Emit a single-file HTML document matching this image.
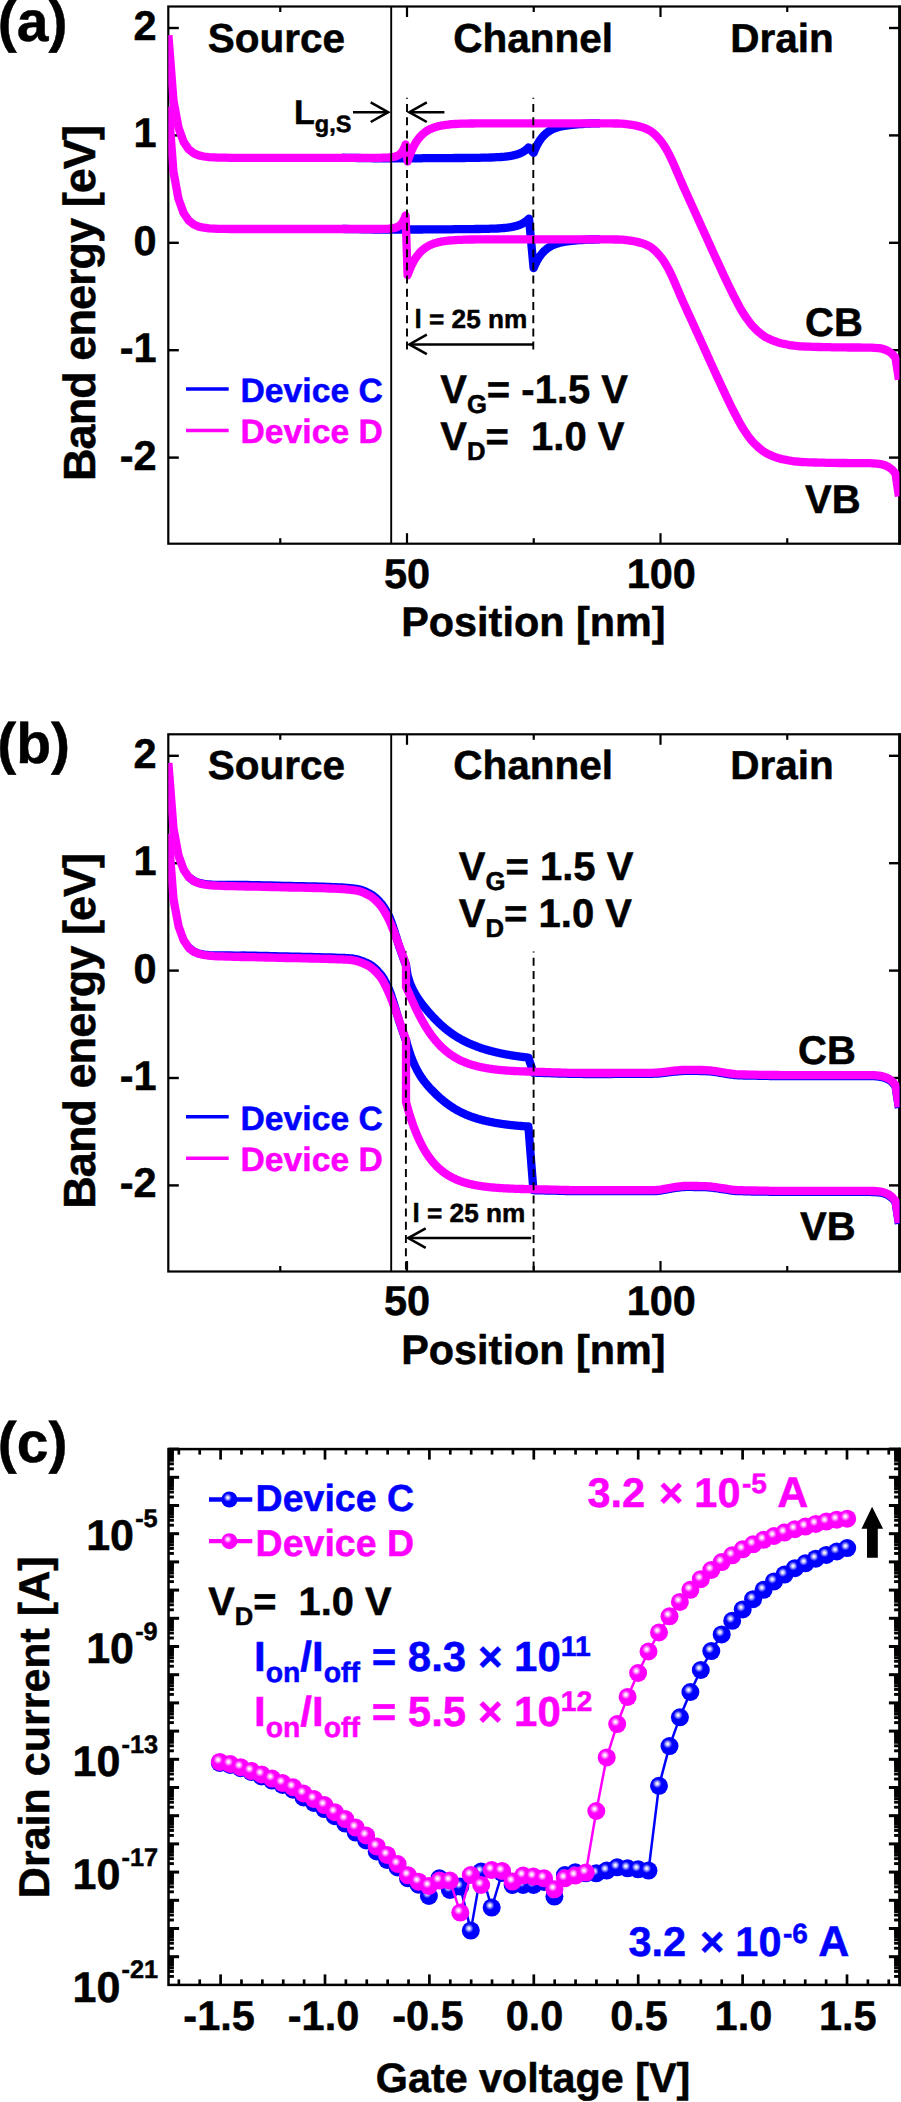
<!DOCTYPE html>
<html><head><meta charset="utf-8"><title>Band diagrams and transfer characteristics</title>
<style>html,body{margin:0;padding:0;background:#fff}svg{display:block}text{stroke:#000;stroke-width:.5px}text[fill="#0000ff"]{stroke:#0000ff}text[fill="#ff00ff"]{stroke:#ff00ff}</style></head>
<body>
<svg width="901" height="2102" viewBox="0 0 901 2102" font-family='"Liberation Sans", sans-serif' font-weight="bold" text-rendering="geometricPrecision">
<defs>
<clipPath id="ca"><rect x="168.3" y="6.5" width="731.2" height="537.2"/></clipPath>
<clipPath id="cb"><rect x="168.3" y="734.3" width="731.2" height="537.2"/></clipPath>
<radialGradient id="gm" cx="0.40" cy="0.38" r="0.5" fx="0.40" fy="0.38"><stop offset="0" stop-color="#fff"/><stop offset="0.12" stop-color="#ffe4ff"/><stop offset="0.5" stop-color="#ff00ff"/><stop offset="1" stop-color="#ff00ff"/></radialGradient>
<radialGradient id="gb" cx="0.40" cy="0.38" r="0.5" fx="0.40" fy="0.38"><stop offset="0" stop-color="#fff"/><stop offset="0.12" stop-color="#e4e4ff"/><stop offset="0.5" stop-color="#0000ff"/><stop offset="1" stop-color="#0000ff"/></radialGradient>
</defs>
<rect width="901" height="2102" fill="#fff"/>
<rect x="168.3" y="6.5" width="731.2" height="537.2" fill="none" stroke="#000" stroke-width="2.2"/>
<line x1="899.7" y1="5.4" x2="899.7" y2="544.8000000000001" stroke="#000" stroke-width="2.8" />
<line x1="168.3" y1="28.0" x2="178.8" y2="28.0" stroke="#000" stroke-width="2.4" />
<line x1="899.5" y1="28.0" x2="889.0" y2="28.0" stroke="#000" stroke-width="2.4" />
<text x="156.7" y="40.0" font-size="41.5" fill="#000" text-anchor="end" >2</text>
<line x1="168.3" y1="135.4" x2="178.8" y2="135.4" stroke="#000" stroke-width="2.4" />
<line x1="899.5" y1="135.4" x2="889.0" y2="135.4" stroke="#000" stroke-width="2.4" />
<text x="156.7" y="147.4" font-size="41.5" fill="#000" text-anchor="end" >1</text>
<line x1="168.3" y1="242.8" x2="178.8" y2="242.8" stroke="#000" stroke-width="2.4" />
<line x1="899.5" y1="242.8" x2="889.0" y2="242.8" stroke="#000" stroke-width="2.4" />
<text x="156.7" y="254.8" font-size="41.5" fill="#000" text-anchor="end" >0</text>
<line x1="168.3" y1="350.20000000000005" x2="178.8" y2="350.20000000000005" stroke="#000" stroke-width="2.4" />
<line x1="899.5" y1="350.20000000000005" x2="889.0" y2="350.20000000000005" stroke="#000" stroke-width="2.4" />
<text x="156.7" y="362.20000000000005" font-size="41.5" fill="#000" text-anchor="end" >-1</text>
<line x1="168.3" y1="457.6" x2="178.8" y2="457.6" stroke="#000" stroke-width="2.4" />
<line x1="899.5" y1="457.6" x2="889.0" y2="457.6" stroke="#000" stroke-width="2.4" />
<text x="156.7" y="469.6" font-size="41.5" fill="#000" text-anchor="end" >-2</text>
<line x1="280.25" y1="543.7" x2="280.25" y2="538.2" stroke="#000" stroke-width="2.2" />
<line x1="280.25" y1="6.5" x2="280.25" y2="12.0" stroke="#000" stroke-width="2.2" />
<line x1="407.0" y1="543.7" x2="407.0" y2="533.2" stroke="#000" stroke-width="2.2" />
<line x1="407.0" y1="6.5" x2="407.0" y2="17.0" stroke="#000" stroke-width="2.2" />
<line x1="533.75" y1="543.7" x2="533.75" y2="538.2" stroke="#000" stroke-width="2.2" />
<line x1="533.75" y1="6.5" x2="533.75" y2="12.0" stroke="#000" stroke-width="2.2" />
<line x1="660.5" y1="543.7" x2="660.5" y2="533.2" stroke="#000" stroke-width="2.2" />
<line x1="660.5" y1="6.5" x2="660.5" y2="17.0" stroke="#000" stroke-width="2.2" />
<line x1="787.25" y1="543.7" x2="787.25" y2="538.2" stroke="#000" stroke-width="2.2" />
<line x1="787.25" y1="6.5" x2="787.25" y2="12.0" stroke="#000" stroke-width="2.2" />
<text x="407.0" y="587.6" font-size="41.5" fill="#000" text-anchor="middle" >50</text>
<text x="661.3" y="587.6" font-size="41.5" fill="#000" text-anchor="middle" >100</text>
<text x="533.4" y="636.4" font-size="41.4" fill="#000" text-anchor="middle" >Position [nm]</text>
<text transform="translate(95.2,303.5) rotate(-90)" font-size="45" text-anchor="middle" letter-spacing="-0.95">Band energy [eV]</text>
<text x="-2.3" y="41.2" font-size="57" fill="#000" text-anchor="start" >(a)</text>
<text x="276.5" y="51.6" font-size="40.5" fill="#000" text-anchor="middle" >Source</text>
<text x="533.2" y="51.6" font-size="40.5" fill="#000" text-anchor="middle" >Channel</text>
<text x="782" y="51.6" font-size="40.5" fill="#000" text-anchor="middle" >Drain</text>
<g clip-path="url(#ca)">
<polyline points="342.0,157.7 346.0,157.8 350.0,157.9 354.0,157.9 358.0,158.0 362.0,158.1 366.0,158.2 370.0,158.2 374.0,158.3 378.0,158.4 380.0,158.4 380.4,158.4 380.8,158.4 381.2,158.4 381.6,158.4 382.0,158.4 382.4,158.4 382.8,158.4 383.2,158.4 383.6,158.4 384.0,158.4 384.4,158.4 384.8,158.4 385.2,158.4 385.6,158.4 386.0,158.4 386.4,158.4 386.8,158.4 387.2,158.4 387.6,158.4 388.0,158.4 388.4,158.4 388.8,158.4 389.2,158.4 389.6,158.4 390.0,158.4 390.4,158.4 390.8,158.4 391.2,158.4 391.6,158.4 392.0,158.4 392.4,158.4 392.8,158.4 393.2,158.4 393.6,158.4 394.0,158.4 394.4,158.4 394.8,158.4 395.2,158.4 395.6,158.4 396.0,158.4 396.4,158.4 396.8,158.4 397.2,158.4 397.6,158.4 398.0,158.4 398.4,158.4 398.8,158.3 399.2,158.3 399.6,158.3 400.0,158.3 400.4,158.3 400.8,158.3 401.2,158.3 401.6,158.3 402.0,158.3 402.4,158.3 402.8,158.3 403.2,158.3 403.6,158.3 404.0,158.3 404.4,158.3 404.8,158.3 405.2,158.3 405.6,158.3 405.6,158.3 406.0,158.3 406.4,158.3 406.8,158.3 407.2,158.3 407.6,158.3 407.6,158.3 408.0,158.3 408.4,158.3 408.8,158.3 409.2,158.3 409.6,158.3 410.0,158.3 410.4,158.3 410.8,158.3 411.2,158.3 411.6,158.3 412.0,158.3 412.4,158.3 412.8,158.3 413.2,158.3 413.6,158.3 414.0,158.3 414.4,158.3 414.8,158.3 415.2,158.3 415.6,158.3 416.0,158.3 416.4,158.3 416.8,158.3 417.2,158.3 417.6,158.3 418.0,158.3 418.4,158.3 418.8,158.3 419.2,158.3 419.6,158.3 420.0,158.3 420.4,158.3 420.8,158.3 421.2,158.3 421.6,158.3 422.0,158.3 422.4,158.2 422.8,158.2 423.2,158.2 423.6,158.2 424.0,158.2 424.4,158.2 424.8,158.2 425.2,158.2 425.6,158.2 426.0,158.2 426.4,158.2 426.8,158.2 427.2,158.2 427.6,158.2 428.0,158.2 428.4,158.2 428.8,158.2 429.2,158.2 429.6,158.2 430.0,158.2 430.4,158.2 430.8,158.2 431.2,158.2 431.6,158.2 432.0,158.2 432.4,158.2 432.8,158.2 433.2,158.2 433.6,158.2 434.0,158.2 434.4,158.2 434.8,158.2 435.2,158.2 435.6,158.2 436.0,158.2 436.4,158.2 436.8,158.2 437.2,158.2 437.6,158.2 438.0,158.2 438.4,158.2 438.8,158.2 439.2,158.2 439.6,158.2 440.0,158.1 443.0,158.1 446.0,158.1 449.0,158.1 452.0,158.1 455.0,158.0 458.0,158.0 461.0,158.0 464.0,158.0 467.0,157.9 470.0,157.9 473.0,157.8 476.0,157.8 479.0,157.8 482.0,157.7 485.0,157.6 488.0,157.6 491.0,157.5 494.0,157.4 497.0,157.2 500.0,157.1 500.4,157.0 500.8,157.0 501.2,157.0 501.6,157.0 502.0,156.9 502.4,156.9 502.8,156.9 503.2,156.8 503.6,156.8 504.0,156.8 504.4,156.7 504.8,156.7 505.2,156.6 505.6,156.6 506.0,156.6 506.4,156.5 506.8,156.5 507.2,156.4 507.6,156.4 508.0,156.3 508.4,156.3 508.8,156.2 509.2,156.1 509.6,156.1 510.0,156.0 510.4,156.0 510.8,155.9 511.2,155.8 511.6,155.7 512.0,155.7 512.4,155.6 512.8,155.5 513.2,155.4 513.6,155.3 514.0,155.2 514.4,155.1 514.8,155.0 515.2,154.9 515.6,154.8 516.0,154.7 516.4,154.6 516.8,154.5 517.2,154.3 517.6,154.2 518.0,154.1 518.4,153.9 518.8,153.8 519.2,153.6 519.6,153.5 520.0,153.3 520.4,153.1 520.8,152.9 521.2,152.8 521.6,152.6 522.0,152.4 522.4,152.1 522.8,151.9 523.2,151.7 523.6,151.4 524.0,151.2 524.4,150.9 524.8,150.6 525.2,150.4 525.6,150.1 526.0,149.8 526.4,149.4 526.8,149.1 527.2,148.7 527.6,148.4 528.0,148.0 528.4,147.6 528.6,147.4 528.8,147.5 529.0,147.7 529.2,148.0 529.6,148.4 530.0,148.9 530.4,149.3 530.8,149.8 531.2,150.2 531.6,150.7 532.0,151.1 532.4,151.6 532.8,152.0 533.2,152.5 533.6,152.9 533.6,152.9 534.0,151.9 534.4,150.9 534.8,149.9 535.2,149.0 535.6,148.1 536.0,147.3 536.4,146.4 536.8,145.6 537.2,144.9 537.6,144.1 538.0,143.4 538.4,142.7 538.8,142.1 539.2,141.4 539.6,140.8 540.0,140.2 540.4,139.6 540.8,139.1 541.2,138.5 541.6,138.0 542.0,137.5 542.4,137.0 542.8,136.6 543.2,136.1 543.6,135.7 544.0,135.3 544.4,134.9 544.8,134.5 545.2,134.1 545.6,133.8 546.0,133.4 546.4,133.1 546.8,132.8 547.2,132.5 547.6,132.2 548.0,131.9 548.4,131.6 548.8,131.3 549.2,131.1 549.6,130.8 550.0,130.6 550.4,130.4 550.8,130.1 551.2,129.9 551.6,129.7 552.0,129.5 552.4,129.3 552.8,129.1 553.2,128.9 553.6,128.8 554.0,128.6 554.4,128.4 554.8,128.3 555.2,128.1 555.6,128.0 556.0,127.9 556.4,127.7 556.8,127.6 557.2,127.5 557.6,127.3 558.0,127.2 558.4,127.1 558.8,127.0 559.2,126.9 559.6,126.8 560.0,126.7 560.4,126.6 560.8,126.5 561.2,126.4 561.6,126.4 562.0,126.3 562.4,126.2 562.8,126.1 563.2,126.1 563.6,126.0 564.0,125.9 564.4,125.9 564.8,125.8 565.2,125.7 565.6,125.7 566.0,125.6 566.4,125.6 566.8,125.5 567.2,125.5 567.6,125.4 568.0,125.4 568.4,125.3 568.8,125.3 569.2,125.2 569.6,125.2 570.0,125.2 570.4,125.1 570.8,125.0 571.2,125.0 571.6,124.9 572.0,124.9 572.4,124.9 572.8,124.8 573.2,124.8 573.6,124.7 574.0,124.7 574.4,124.6 574.8,124.6 575.2,124.6 575.6,124.5 576.0,124.5 576.4,124.4 576.8,124.4 577.2,124.4 577.6,124.3 578.0,124.3 578.4,124.3 578.8,124.2 579.2,124.2 579.6,124.2 580.0,124.1 582.0,124.0 584.0,123.8 586.0,123.7 588.0,123.6 590.0,123.5 592.0,123.4 594.0,123.4 596.0,123.4 598.0,123.4 600.0,123.4" fill="none" stroke="#0000ff" stroke-width="8.3" stroke-linejoin="round" />
<polyline points="342.0,228.9 346.0,229.0 350.0,229.1 354.0,229.1 358.0,229.2 362.0,229.3 366.0,229.4 370.0,229.4 374.0,229.5 378.0,229.6 380.0,229.6 380.4,229.6 380.8,229.6 381.2,229.6 381.6,229.6 382.0,229.6 382.4,229.6 382.8,229.6 383.2,229.6 383.6,229.6 384.0,229.6 384.4,229.6 384.8,229.6 385.2,229.6 385.6,229.6 386.0,229.6 386.4,229.6 386.8,229.6 387.2,229.6 387.6,229.6 388.0,229.6 388.4,229.6 388.8,229.6 389.2,229.6 389.6,229.6 390.0,229.6 390.4,229.6 390.8,229.6 391.2,229.6 391.6,229.6 392.0,229.6 392.4,229.6 392.8,229.6 393.2,229.6 393.6,229.6 394.0,229.6 394.4,229.6 394.8,229.6 395.2,229.6 395.6,229.6 396.0,229.6 396.4,229.6 396.8,229.6 397.2,229.6 397.6,229.6 398.0,229.6 398.4,229.6 398.8,229.6 399.2,229.5 399.6,229.5 400.0,229.5 400.4,229.5 400.8,229.5 401.2,229.5 401.6,229.5 402.0,229.5 402.4,229.5 402.8,229.5 403.2,229.5 403.6,229.5 404.0,229.5 404.4,229.5 404.8,229.5 405.2,229.5 405.6,229.5 405.6,229.5 406.0,229.5 406.4,229.5 406.8,229.5 407.2,229.5 407.6,229.5 407.6,229.5 408.0,229.5 408.4,229.5 408.8,229.5 409.2,229.5 409.6,229.5 410.0,229.5 410.4,229.5 410.8,229.5 411.2,229.5 411.6,229.5 412.0,229.5 412.4,229.5 412.8,229.5 413.2,229.5 413.6,229.5 414.0,229.5 414.4,229.5 414.8,229.5 415.2,229.5 415.6,229.5 416.0,229.5 416.4,229.5 416.8,229.5 417.2,229.5 417.6,229.5 418.0,229.5 418.4,229.5 418.8,229.5 419.2,229.5 419.6,229.5 420.0,229.5 420.4,229.5 420.8,229.5 421.2,229.5 421.6,229.5 422.0,229.5 422.4,229.5 422.8,229.4 423.2,229.4 423.6,229.4 424.0,229.4 424.4,229.4 424.8,229.4 425.2,229.4 425.6,229.4 426.0,229.4 426.4,229.4 426.8,229.4 427.2,229.4 427.6,229.4 428.0,229.4 428.4,229.4 428.8,229.4 429.2,229.4 429.6,229.4 430.0,229.4 430.4,229.4 430.8,229.4 431.2,229.4 431.6,229.4 432.0,229.4 432.4,229.4 432.8,229.4 433.2,229.4 433.6,229.4 434.0,229.4 434.4,229.4 434.8,229.4 435.2,229.4 435.6,229.4 436.0,229.4 436.4,229.4 436.8,229.4 437.2,229.4 437.6,229.4 438.0,229.4 438.4,229.4 438.8,229.4 439.2,229.4 439.6,229.4 440.0,229.4 443.0,229.3 446.0,229.3 449.0,229.3 452.0,229.3 455.0,229.2 458.0,229.2 461.0,229.2 464.0,229.2 467.0,229.1 470.0,229.1 473.0,229.1 476.0,229.0 479.0,229.0 482.0,228.9 485.0,228.9 488.0,228.8 491.0,228.7 494.0,228.6 497.0,228.5 500.0,228.3 500.4,228.3 500.8,228.2 501.2,228.2 501.6,228.2 502.0,228.2 502.4,228.1 502.8,228.1 503.2,228.1 503.6,228.0 504.0,228.0 504.4,228.0 504.8,227.9 505.2,227.9 505.6,227.8 506.0,227.8 506.4,227.8 506.8,227.7 507.2,227.7 507.6,227.6 508.0,227.6 508.4,227.5 508.8,227.5 509.2,227.4 509.6,227.3 510.0,227.3 510.4,227.2 510.8,227.2 511.2,227.1 511.6,227.0 512.0,226.9 512.4,226.9 512.8,226.8 513.2,226.7 513.6,226.6 514.0,226.5 514.4,226.4 514.8,226.3 515.2,226.2 515.6,226.1 516.0,226.0 516.4,225.9 516.8,225.8 517.2,225.7 517.6,225.5 518.0,225.4 518.4,225.3 518.8,225.1 519.2,225.0 519.6,224.8 520.0,224.7 520.4,224.5 520.8,224.3 521.2,224.1 521.6,224.0 522.0,223.8 522.4,223.6 522.8,223.3 523.2,223.1 523.6,222.9 524.0,222.6 524.4,222.4 524.8,222.1 525.2,221.8 525.6,221.6 526.0,221.3 526.4,221.0 526.8,220.6 527.2,220.3 527.6,219.9 528.0,219.6 528.4,219.2 528.6,219.0 528.8,218.8 529.0,218.6 529.2,220.7 529.6,225.0 530.0,229.3 530.4,233.6 530.8,237.9 531.2,242.2 531.6,246.5 532.0,250.8 532.4,255.2 532.8,259.5 533.2,263.8 533.6,268.1 533.6,268.1 534.0,267.1 534.4,266.2 534.8,265.3 535.2,264.4 535.6,263.6 536.0,262.8 536.4,262.0 536.8,261.3 537.2,260.5 537.6,259.8 538.0,259.1 538.4,258.5 538.8,257.8 539.2,257.2 539.6,256.6 540.0,256.1 540.4,255.5 540.8,255.0 541.2,254.5 541.6,254.0 542.0,253.5 542.4,253.0 542.8,252.6 543.2,252.1 543.6,251.7 544.0,251.3 544.4,250.9 544.8,250.5 545.2,250.2 545.6,249.8 546.0,249.5 546.4,249.2 546.8,248.8 547.2,248.5 547.6,248.2 548.0,248.0 548.4,247.7 548.8,247.4 549.2,247.2 549.6,246.9 550.0,246.7 550.4,246.4 550.8,246.2 551.2,246.0 551.6,245.8 552.0,245.6 552.4,245.4 552.8,245.2 553.2,245.0 553.6,244.9 554.0,244.7 554.4,244.5 554.8,244.4 555.2,244.2 555.6,244.1 556.0,243.9 556.4,243.8 556.8,243.7 557.2,243.5 557.6,243.4 558.0,243.3 558.4,243.2 558.8,243.1 559.2,242.9 559.6,242.8 560.0,242.7 560.4,242.6 560.8,242.5 561.2,242.5 561.6,242.4 562.0,242.3 562.4,242.2 562.8,242.1 563.2,242.0 563.6,242.0 564.0,241.9 564.4,241.8 564.8,241.8 565.2,241.7 565.6,241.6 566.0,241.6 566.4,241.5 566.8,241.5 567.2,241.4 567.6,241.4 568.0,241.3 568.4,241.3 568.8,241.2 569.2,241.2 569.6,241.1 570.0,241.1 570.4,241.0 570.8,241.0 571.2,240.9 571.6,240.9 572.0,240.8 572.4,240.8 572.8,240.8 573.2,240.7 573.6,240.7 574.0,240.6 574.4,240.6 574.8,240.5 575.2,240.5 575.6,240.5 576.0,240.4 576.4,240.4 576.8,240.4 577.2,240.3 577.6,240.3 578.0,240.3 578.4,240.2 578.8,240.2 579.2,240.2 579.6,240.1 580.0,240.1 582.0,240.0 584.0,239.8 586.0,239.7 588.0,239.6 590.0,239.5 592.0,239.5 594.0,239.5 596.0,239.4 598.0,239.4 600.0,239.4" fill="none" stroke="#0000ff" stroke-width="8.3" stroke-linejoin="round" />
<polyline points="168.4,35.2 173.5,100.8 178.5,127.7 183.6,141.8 188.7,149.3 193.8,153.3 198.8,155.4 203.9,156.5 209.0,157.1 214.0,157.4 218.0,157.6 222.0,157.7 226.0,157.7 230.0,157.8 234.0,157.8 238.0,157.8 242.0,157.8 246.0,157.8 250.0,157.8 254.0,157.8 258.0,157.8 262.0,157.8 266.0,157.8 270.0,157.8 274.0,157.8 278.0,157.8 282.0,157.8 286.0,157.8 290.0,157.8 294.0,157.8 298.0,157.8 302.0,157.8 306.0,157.8 310.0,157.8 314.0,157.8 318.0,157.8 322.0,157.8 326.0,157.8 330.0,157.8 334.0,157.8 338.0,157.8 342.0,157.8 346.0,157.8 350.0,157.8 354.0,157.8 358.0,157.8 362.0,157.8 366.0,157.8 370.0,157.8 374.0,157.8 378.0,157.8 380.0,157.8 380.4,157.8 380.8,157.8 381.2,157.7 381.6,157.7 382.0,157.7 382.4,157.7 382.8,157.7 383.2,157.7 383.6,157.7 384.0,157.7 384.4,157.7 384.8,157.7 385.2,157.7 385.6,157.7 386.0,157.6 386.4,157.6 386.8,157.6 387.2,157.6 387.6,157.6 388.0,157.6 388.4,157.5 388.8,157.5 389.2,157.5 389.6,157.4 390.0,157.4 390.4,157.4 390.8,157.3 391.2,157.3 391.6,157.2 392.0,157.2 392.4,157.1 392.8,157.1 393.2,157.0 393.6,156.9 394.0,156.8 394.4,156.8 394.8,156.7 395.2,156.5 395.6,156.4 396.0,156.3 396.4,156.2 396.8,156.0 397.2,155.8 397.6,155.6 398.0,155.4 398.4,155.2 398.8,155.0 399.2,154.7 399.6,154.4 400.0,154.1 400.4,153.7 400.8,153.3 401.2,152.9 401.6,152.4 402.0,151.9 402.4,151.4 402.8,150.8 403.2,150.1 403.6,149.4 404.0,148.6 404.4,147.7 404.8,146.7 405.2,145.7 405.6,144.5 405.6,144.5 406.0,147.9 406.4,151.3 406.8,154.7 407.2,158.1 407.6,161.5 407.6,161.5 408.0,160.2 408.4,159.0 408.8,157.9 409.2,156.7 409.6,155.6 410.0,154.6 410.4,153.6 410.8,152.6 411.2,151.6 411.6,150.7 412.0,149.8 412.4,148.9 412.8,148.1 413.2,147.3 413.6,146.5 414.0,145.7 414.4,145.0 414.8,144.3 415.2,143.6 415.6,142.9 416.0,142.3 416.4,141.6 416.8,141.0 417.2,140.5 417.6,139.9 418.0,139.4 418.4,138.8 418.8,138.3 419.2,137.8 419.6,137.4 420.0,136.9 420.4,136.4 420.8,136.0 421.2,135.6 421.6,135.2 422.0,134.8 422.4,134.4 422.8,134.1 423.2,133.7 423.6,133.4 424.0,133.0 424.4,132.7 424.8,132.4 425.2,132.1 425.6,131.8 426.0,131.5 426.4,131.3 426.8,131.0 427.2,130.8 427.6,130.5 428.0,130.3 428.4,130.0 428.8,129.8 429.2,129.6 429.6,129.4 430.0,129.2 430.4,129.0 430.8,128.8 431.2,128.6 431.6,128.5 432.0,128.3 432.4,128.1 432.8,128.0 433.2,127.8 433.6,127.7 434.0,127.5 434.4,127.4 434.8,127.3 435.2,127.1 435.6,127.0 436.0,126.9 436.4,126.8 436.8,126.7 437.2,126.5 437.6,126.4 438.0,126.3 438.4,126.2 438.8,126.1 439.2,126.0 439.6,126.0 440.0,125.9 443.0,125.3 446.0,124.9 449.0,124.5 452.0,124.2 455.0,124.0 458.0,123.9 461.0,123.7 464.0,123.6 467.0,123.6 470.0,123.5 473.0,123.5 476.0,123.4 479.0,123.4 482.0,123.4 485.0,123.4 488.0,123.3 491.0,123.3 494.0,123.3 497.0,123.3 500.0,123.3 500.4,123.3 500.8,123.3 501.2,123.3 501.6,123.3 502.0,123.3 502.4,123.3 502.8,123.3 503.2,123.3 503.6,123.3 504.0,123.3 504.4,123.3 504.8,123.3 505.2,123.3 505.6,123.3 506.0,123.3 506.4,123.3 506.8,123.3 507.2,123.3 507.6,123.3 508.0,123.3 508.4,123.3 508.8,123.3 509.2,123.3 509.6,123.3 510.0,123.3 510.4,123.3 510.8,123.3 511.2,123.3 511.6,123.3 512.0,123.3 512.4,123.3 512.8,123.3 513.2,123.3 513.6,123.3 514.0,123.3 514.4,123.3 514.8,123.3 515.2,123.3 515.6,123.3 516.0,123.3 516.4,123.3 516.8,123.3 517.2,123.3 517.6,123.3 518.0,123.3 518.4,123.3 518.8,123.3 519.2,123.3 519.6,123.3 520.0,123.3 520.4,123.3 520.8,123.3 521.2,123.3 521.6,123.3 522.0,123.3 522.4,123.3 522.8,123.3 523.2,123.3 523.6,123.3 524.0,123.3 524.4,123.3 524.8,123.3 525.2,123.3 525.6,123.3 526.0,123.3 526.4,123.3 526.8,123.3 527.2,123.3 527.6,123.3 528.0,123.3 528.4,123.3 528.6,123.3 528.8,123.3 529.0,123.3 529.2,123.3 529.6,123.3 530.0,123.3 530.4,123.3 530.8,123.3 531.2,123.3 531.6,123.3 532.0,123.3 532.4,123.3 532.8,123.3 533.2,123.3 533.6,123.3 533.6,123.3 534.0,123.3 534.4,123.3 534.8,123.3 535.2,123.3 535.6,123.3 536.0,123.3 536.4,123.3 536.8,123.3 537.2,123.3 537.6,123.3 538.0,123.3 538.4,123.3 538.8,123.3 539.2,123.3 539.6,123.3 540.0,123.3 540.4,123.3 540.8,123.3 541.2,123.3 541.6,123.3 542.0,123.3 542.4,123.3 542.8,123.3 543.2,123.3 543.6,123.3 544.0,123.3 544.4,123.3 544.8,123.3 545.2,123.3 545.6,123.3 546.0,123.3 546.4,123.3 546.8,123.3 547.2,123.3 547.6,123.3 548.0,123.3 548.4,123.3 548.8,123.3 549.2,123.3 549.6,123.3 550.0,123.3 550.4,123.3 550.8,123.3 551.2,123.3 551.6,123.3 552.0,123.3 552.4,123.3 552.8,123.3 553.2,123.3 553.6,123.3 554.0,123.3 554.4,123.3 554.8,123.3 555.2,123.3 555.6,123.3 556.0,123.3 556.4,123.3 556.8,123.3 557.2,123.3 557.6,123.3 558.0,123.3 558.4,123.3 558.8,123.3 559.2,123.3 559.6,123.3 560.0,123.3 560.4,123.3 560.8,123.3 561.2,123.3 561.6,123.3 562.0,123.3 562.4,123.3 562.8,123.3 563.2,123.3 563.6,123.3 564.0,123.3 564.4,123.3 564.8,123.3 565.2,123.3 565.6,123.3 566.0,123.3 566.4,123.3 566.8,123.3 567.2,123.3 567.6,123.3 568.0,123.3 568.4,123.3 568.8,123.3 569.2,123.3 569.6,123.3 570.0,123.3 570.4,123.3 570.8,123.3 571.2,123.3 571.6,123.3 572.0,123.3 572.4,123.3 572.8,123.3 573.2,123.3 573.6,123.3 574.0,123.3 574.4,123.3 574.8,123.3 575.2,123.3 575.6,123.3 576.0,123.3 576.4,123.3 576.8,123.3 577.2,123.3 577.6,123.3 578.0,123.3 578.4,123.3 578.8,123.3 579.2,123.3 579.6,123.3 580.0,123.3 582.0,123.3 584.0,123.3 586.0,123.3 588.0,123.3 590.0,123.3 592.0,123.3 594.0,123.3 596.0,123.3 598.0,123.3 600.0,123.3 602.0,123.3 604.0,123.3 606.0,123.3 608.0,123.4 610.0,123.4 612.0,123.4 614.0,123.5 616.0,123.5 618.0,123.5 620.0,123.6 622.0,123.7 624.0,123.8 626.0,124.0 628.0,124.3 630.0,124.6 632.0,124.9 634.0,125.2 636.0,125.6 638.0,126.1 640.0,126.6 642.0,127.2 644.0,127.9 646.0,128.7 648.0,129.6 650.0,130.7 652.0,132.1 654.0,133.7 656.0,135.6 658.0,137.7 660.0,140.0 662.0,142.5 664.0,145.5 666.0,148.7 668.0,152.3 670.0,156.2 672.0,160.4 674.0,164.9 676.0,169.5 678.0,174.2 680.0,178.9 682.0,183.5 684.0,188.0 686.0,192.4 688.0,196.8 690.0,201.2 692.0,205.6 694.0,210.0 696.0,214.4 698.0,218.8 700.0,223.2 702.0,227.6 704.0,232.0 706.0,236.4 708.0,240.9 710.0,245.3 712.0,249.7 714.0,254.1 716.0,258.5 718.0,262.8 720.0,267.1 722.0,271.4 724.0,275.7 726.0,280.0 728.0,284.2 730.0,288.3 732.0,292.4 734.0,296.3 736.0,300.2 738.0,304.0 740.0,307.7 742.0,311.2 744.0,314.4 746.0,317.4 748.0,320.2 750.0,322.9 752.0,325.4 754.0,327.5 756.0,329.5 758.0,331.4 760.0,333.1 762.0,334.7 764.0,336.1 766.0,337.4 768.0,338.4 770.0,339.3 772.0,340.2 774.0,341.0 776.0,341.7 778.0,342.4 780.0,343.0 782.0,343.5 784.0,343.9 786.0,344.3 788.0,344.7 790.0,345.1 792.0,345.4 794.0,345.7 796.0,345.9 798.0,346.1 800.0,346.3 802.0,346.4 804.0,346.5 806.0,346.6 808.0,346.7 810.0,346.7 812.0,346.8 814.0,346.9 816.0,346.9 818.0,347.0 820.0,347.0 822.0,347.1 824.0,347.1 826.0,347.2 828.0,347.2 830.0,347.2 832.0,347.3 834.0,347.3 836.0,347.3 838.0,347.4 840.0,347.4 842.0,347.4 844.0,347.4 846.0,347.4 848.0,347.5 850.0,347.5 852.0,347.5 854.0,347.5 856.0,347.5 858.0,347.5 860.0,347.5 862.0,347.6 864.0,347.6 866.0,347.6 868.0,347.6 870.0,347.6 872.0,347.7 874.0,347.8 878.8,348.1 882.1,348.7 885.5,349.8 888.9,351.5 892.2,354.0 895.5,357.8 898.9,379.7" fill="none" stroke="#ff00ff" stroke-width="8.3" stroke-linejoin="round" />
<polyline points="168.4,106.4 173.5,172.0 178.5,198.9 183.6,213.0 188.7,220.5 193.8,224.5 198.8,226.6 203.9,227.7 209.0,228.3 214.0,228.6 218.0,228.8 222.0,228.9 226.0,228.9 230.0,229.0 234.0,229.0 238.0,229.0 242.0,229.0 246.0,229.0 250.0,229.0 254.0,229.0 258.0,229.0 262.0,229.0 266.0,229.0 270.0,229.0 274.0,229.0 278.0,229.0 282.0,229.0 286.0,229.0 290.0,229.0 294.0,229.0 298.0,229.0 302.0,229.0 306.0,229.0 310.0,229.0 314.0,229.0 318.0,229.0 322.0,229.0 326.0,229.0 330.0,229.0 334.0,229.0 338.0,229.0 342.0,229.0 346.0,229.0 350.0,229.0 354.0,229.0 358.0,229.0 362.0,229.0 366.0,229.0 370.0,229.0 374.0,229.0 378.0,229.0 380.0,229.0 380.4,229.0 380.8,229.0 381.2,228.9 381.6,228.9 382.0,228.9 382.4,228.9 382.8,228.9 383.2,228.9 383.6,228.9 384.0,228.9 384.4,228.9 384.8,228.9 385.2,228.9 385.6,228.9 386.0,228.8 386.4,228.8 386.8,228.8 387.2,228.8 387.6,228.8 388.0,228.8 388.4,228.7 388.8,228.7 389.2,228.7 389.6,228.6 390.0,228.6 390.4,228.6 390.8,228.5 391.2,228.5 391.6,228.4 392.0,228.4 392.4,228.3 392.8,228.3 393.2,228.2 393.6,228.1 394.0,228.0 394.4,227.9 394.8,227.8 395.2,227.7 395.6,227.6 396.0,227.5 396.4,227.3 396.8,227.2 397.2,227.0 397.6,226.8 398.0,226.6 398.4,226.4 398.8,226.1 399.2,225.8 399.6,225.5 400.0,225.2 400.4,224.8 400.8,224.4 401.2,224.0 401.6,223.5 402.0,223.0 402.4,222.4 402.8,221.8 403.2,221.1 403.6,220.4 404.0,219.5 404.4,218.6 404.8,217.7 405.2,216.6 405.6,215.4 405.6,215.4 406.0,227.4 406.4,239.4 406.8,251.3 407.2,263.3 407.6,275.3 407.6,275.3 408.0,274.1 408.4,273.0 408.8,272.0 409.2,270.9 409.6,269.9 410.0,268.9 410.4,268.0 410.8,267.1 411.2,266.2 411.6,265.3 412.0,264.5 412.4,263.7 412.8,262.9 413.2,262.1 413.6,261.4 414.0,260.7 414.4,260.0 414.8,259.3 415.2,258.7 415.6,258.1 416.0,257.5 416.4,256.9 416.8,256.3 417.2,255.8 417.6,255.3 418.0,254.8 418.4,254.3 418.8,253.8 419.2,253.3 419.6,252.9 420.0,252.4 420.4,252.0 420.8,251.6 421.2,251.2 421.6,250.8 422.0,250.5 422.4,250.1 422.8,249.8 423.2,249.4 423.6,249.1 424.0,248.8 424.4,248.5 424.8,248.2 425.2,247.9 425.6,247.6 426.0,247.4 426.4,247.1 426.8,246.9 427.2,246.6 427.6,246.4 428.0,246.2 428.4,245.9 428.8,245.7 429.2,245.5 429.6,245.3 430.0,245.1 430.4,244.9 430.8,244.8 431.2,244.6 431.6,244.4 432.0,244.3 432.4,244.1 432.8,243.9 433.2,243.8 433.6,243.6 434.0,243.5 434.4,243.4 434.8,243.2 435.2,243.1 435.6,243.0 436.0,242.9 436.4,242.8 436.8,242.7 437.2,242.5 437.6,242.4 438.0,242.3 438.4,242.2 438.8,242.1 439.2,242.1 439.6,242.0 440.0,241.9 443.0,241.3 446.0,240.9 449.0,240.5 452.0,240.3 455.0,240.1 458.0,239.9 461.0,239.8 464.0,239.7 467.0,239.6 470.0,239.5 473.0,239.5 476.0,239.4 479.0,239.4 482.0,239.4 485.0,239.4 488.0,239.4 491.0,239.3 494.0,239.3 497.0,239.3 500.0,239.3 500.4,239.3 500.8,239.3 501.2,239.3 501.6,239.3 502.0,239.3 502.4,239.3 502.8,239.3 503.2,239.3 503.6,239.3 504.0,239.3 504.4,239.3 504.8,239.3 505.2,239.3 505.6,239.3 506.0,239.3 506.4,239.3 506.8,239.3 507.2,239.3 507.6,239.3 508.0,239.3 508.4,239.3 508.8,239.3 509.2,239.3 509.6,239.3 510.0,239.3 510.4,239.3 510.8,239.3 511.2,239.3 511.6,239.3 512.0,239.3 512.4,239.3 512.8,239.3 513.2,239.3 513.6,239.3 514.0,239.3 514.4,239.3 514.8,239.3 515.2,239.3 515.6,239.3 516.0,239.3 516.4,239.3 516.8,239.3 517.2,239.3 517.6,239.3 518.0,239.3 518.4,239.3 518.8,239.3 519.2,239.3 519.6,239.3 520.0,239.3 520.4,239.3 520.8,239.3 521.2,239.3 521.6,239.3 522.0,239.3 522.4,239.3 522.8,239.3 523.2,239.3 523.6,239.3 524.0,239.3 524.4,239.3 524.8,239.3 525.2,239.3 525.6,239.3 526.0,239.3 526.4,239.3 526.8,239.3 527.2,239.3 527.6,239.3 528.0,239.3 528.4,239.3 528.6,239.3 528.8,239.3 529.0,239.3 529.2,239.3 529.6,239.3 530.0,239.3 530.4,239.3 530.8,239.3 531.2,239.3 531.6,239.3 532.0,239.3 532.4,239.3 532.8,239.3 533.2,239.3 533.6,239.3 533.6,239.3 534.0,239.3 534.4,239.3 534.8,239.3 535.2,239.3 535.6,239.3 536.0,239.3 536.4,239.3 536.8,239.3 537.2,239.3 537.6,239.3 538.0,239.3 538.4,239.3 538.8,239.3 539.2,239.3 539.6,239.3 540.0,239.3 540.4,239.3 540.8,239.3 541.2,239.3 541.6,239.3 542.0,239.3 542.4,239.3 542.8,239.3 543.2,239.3 543.6,239.3 544.0,239.3 544.4,239.3 544.8,239.3 545.2,239.3 545.6,239.3 546.0,239.3 546.4,239.3 546.8,239.3 547.2,239.3 547.6,239.3 548.0,239.3 548.4,239.3 548.8,239.3 549.2,239.3 549.6,239.3 550.0,239.3 550.4,239.3 550.8,239.3 551.2,239.3 551.6,239.3 552.0,239.3 552.4,239.3 552.8,239.3 553.2,239.3 553.6,239.3 554.0,239.3 554.4,239.3 554.8,239.3 555.2,239.3 555.6,239.3 556.0,239.3 556.4,239.3 556.8,239.3 557.2,239.3 557.6,239.3 558.0,239.3 558.4,239.3 558.8,239.3 559.2,239.3 559.6,239.3 560.0,239.3 560.4,239.3 560.8,239.3 561.2,239.3 561.6,239.3 562.0,239.3 562.4,239.3 562.8,239.3 563.2,239.3 563.6,239.3 564.0,239.3 564.4,239.3 564.8,239.3 565.2,239.3 565.6,239.3 566.0,239.3 566.4,239.3 566.8,239.3 567.2,239.3 567.6,239.3 568.0,239.3 568.4,239.3 568.8,239.3 569.2,239.3 569.6,239.3 570.0,239.3 570.4,239.3 570.8,239.3 571.2,239.3 571.6,239.3 572.0,239.3 572.4,239.3 572.8,239.3 573.2,239.3 573.6,239.3 574.0,239.3 574.4,239.3 574.8,239.3 575.2,239.3 575.6,239.3 576.0,239.3 576.4,239.3 576.8,239.3 577.2,239.3 577.6,239.3 578.0,239.3 578.4,239.3 578.8,239.3 579.2,239.3 579.6,239.3 580.0,239.3 582.0,239.3 584.0,239.3 586.0,239.3 588.0,239.3 590.0,239.3 592.0,239.3 594.0,239.3 596.0,239.3 598.0,239.3 600.0,239.3 602.0,239.3 604.0,239.3 606.0,239.3 608.0,239.4 610.0,239.4 612.0,239.4 614.0,239.5 616.0,239.5 618.0,239.5 620.0,239.6 622.0,239.7 624.0,239.8 626.0,240.0 628.0,240.3 630.0,240.6 632.0,240.9 634.0,241.2 636.0,241.6 638.0,242.1 640.0,242.6 642.0,243.2 644.0,243.9 646.0,244.7 648.0,245.6 650.0,246.7 652.0,248.1 654.0,249.7 656.0,251.6 658.0,253.7 660.0,256.0 662.0,258.5 664.0,261.4 666.0,264.7 668.0,268.2 670.0,272.1 672.0,276.3 674.0,280.8 676.0,285.4 678.0,290.1 680.0,294.8 682.0,299.4 684.0,303.9 686.0,308.3 688.0,312.7 690.0,317.0 692.0,321.4 694.0,325.8 696.0,330.2 698.0,334.6 700.0,339.0 702.0,343.4 704.0,347.8 706.0,352.2 708.0,356.7 710.0,361.1 712.0,365.5 714.0,369.9 716.0,374.2 718.0,378.5 720.0,382.8 722.0,387.2 724.0,391.4 726.0,395.7 728.0,399.9 730.0,404.0 732.0,408.1 734.0,412.0 736.0,415.8 738.0,419.7 740.0,423.4 742.0,426.8 744.0,430.0 746.0,433.0 748.0,435.9 750.0,438.6 752.0,441.0 754.0,443.1 756.0,445.1 758.0,447.0 760.0,448.7 762.0,450.3 764.0,451.8 766.0,453.0 768.0,454.0 770.0,454.9 772.0,455.8 774.0,456.6 776.0,457.3 778.0,458.0 780.0,458.6 782.0,459.1 784.0,459.5 786.0,459.9 788.0,460.3 790.0,460.7 792.0,461.0 794.0,461.3 796.0,461.5 798.0,461.7 800.0,461.9 802.0,462.0 804.0,462.1 806.0,462.2 808.0,462.3 810.0,462.3 812.0,462.4 814.0,462.5 816.0,462.5 818.0,462.6 820.0,462.6 822.0,462.7 824.0,462.7 826.0,462.8 828.0,462.8 830.0,462.8 832.0,462.9 834.0,462.9 836.0,462.9 838.0,463.0 840.0,463.0 842.0,463.0 844.0,463.0 846.0,463.0 848.0,463.1 850.0,463.1 852.0,463.1 854.0,463.1 856.0,463.1 858.0,463.1 860.0,463.1 862.0,463.2 864.0,463.2 866.0,463.2 868.0,463.2 870.0,463.2 872.0,463.3 874.0,463.4 878.8,463.8 882.1,464.3 885.5,465.5 888.9,467.2 892.2,469.7 895.5,473.7 898.9,496.3" fill="none" stroke="#ff00ff" stroke-width="8.3" stroke-linejoin="round" />
</g>
<line x1="391.2" y1="6.5" x2="391.2" y2="543.7" stroke="#000" stroke-width="1.9" />
<line x1="407.0" y1="97.8" x2="407.0" y2="350.5" stroke="#000" stroke-width="1.9" stroke-dasharray="8 5.2" stroke-dashoffset="7"/>
<line x1="533.3" y1="97.8" x2="533.3" y2="350.5" stroke="#000" stroke-width="1.9" stroke-dasharray="8 5.2" stroke-dashoffset="7"/>
<line x1="186" y1="389" x2="228.7" y2="389" stroke="#0000ff" stroke-width="3.5" />
<line x1="186" y1="430.5" x2="228.7" y2="430.5" stroke="#ff00ff" stroke-width="3.5" />
<text x="240.5" y="402" font-size="33.7" fill="#0000ff" text-anchor="start" >Device C</text>
<text x="240.5" y="443" font-size="33.7" fill="#ff00ff" text-anchor="start" >Device D</text>
<text x="294" y="124.4" font-size="34">L<tspan font-size="23.5" dy="8">g,S</tspan></text>
<line x1="353" y1="112.2" x2="388.2" y2="112.2" stroke="#000" stroke-width="2.5" />
<polyline points="370.7,102.4 388.2,112.2 370.7,122.0" fill="none" stroke="#000" stroke-width="2.5" stroke-linejoin="miter"/>
<line x1="409.3" y1="112.2" x2="444.4" y2="112.2" stroke="#000" stroke-width="2.5" />
<polyline points="426.8,102.4 409.3,112.2 426.8,122.0" fill="none" stroke="#000" stroke-width="2.5" stroke-linejoin="miter"/>
<text x="470.9" y="327.9" font-size="26.2" fill="#000" text-anchor="middle" >l = 25 nm</text>
<line x1="409.3" y1="344.4" x2="533" y2="344.4" stroke="#000" stroke-width="2.5" />
<polyline points="426.8,334.59999999999997 409.3,344.4 426.8,354.2" fill="none" stroke="#000" stroke-width="2.5" stroke-linejoin="miter"/>
<text x="440.2" y="402.7" font-size="40" xml:space="preserve">V<tspan font-size="25.7" dy="10">G</tspan><tspan dy="-10">= -1.5 V</tspan></text>
<text x="440.2" y="449.8" font-size="40" xml:space="preserve">V<tspan font-size="25.7" dy="10">D</tspan><tspan dy="-10">=  1.0 V</tspan></text>
<text x="805" y="335.6" font-size="40" fill="#000" text-anchor="start" >CB</text>
<text x="805" y="513" font-size="40" fill="#000" text-anchor="start" >VB</text>
<rect x="168.3" y="734.3" width="731.2" height="537.2" fill="none" stroke="#000" stroke-width="2.2"/>
<line x1="899.7" y1="733.1999999999999" x2="899.7" y2="1272.6" stroke="#000" stroke-width="2.8" />
<line x1="168.3" y1="755.8" x2="178.8" y2="755.8" stroke="#000" stroke-width="2.4" />
<line x1="899.5" y1="755.8" x2="889.0" y2="755.8" stroke="#000" stroke-width="2.4" />
<text x="156.7" y="767.8" font-size="41.5" fill="#000" text-anchor="end" >2</text>
<line x1="168.3" y1="863.1999999999999" x2="178.8" y2="863.1999999999999" stroke="#000" stroke-width="2.4" />
<line x1="899.5" y1="863.1999999999999" x2="889.0" y2="863.1999999999999" stroke="#000" stroke-width="2.4" />
<text x="156.7" y="875.1999999999999" font-size="41.5" fill="#000" text-anchor="end" >1</text>
<line x1="168.3" y1="970.5999999999999" x2="178.8" y2="970.5999999999999" stroke="#000" stroke-width="2.4" />
<line x1="899.5" y1="970.5999999999999" x2="889.0" y2="970.5999999999999" stroke="#000" stroke-width="2.4" />
<text x="156.7" y="982.5999999999999" font-size="41.5" fill="#000" text-anchor="end" >0</text>
<line x1="168.3" y1="1078.0" x2="178.8" y2="1078.0" stroke="#000" stroke-width="2.4" />
<line x1="899.5" y1="1078.0" x2="889.0" y2="1078.0" stroke="#000" stroke-width="2.4" />
<text x="156.7" y="1090.0" font-size="41.5" fill="#000" text-anchor="end" >-1</text>
<line x1="168.3" y1="1185.4" x2="178.8" y2="1185.4" stroke="#000" stroke-width="2.4" />
<line x1="899.5" y1="1185.4" x2="889.0" y2="1185.4" stroke="#000" stroke-width="2.4" />
<text x="156.7" y="1197.4" font-size="41.5" fill="#000" text-anchor="end" >-2</text>
<line x1="280.25" y1="1271.5" x2="280.25" y2="1266.0" stroke="#000" stroke-width="2.2" />
<line x1="280.25" y1="734.3" x2="280.25" y2="739.8" stroke="#000" stroke-width="2.2" />
<line x1="407.0" y1="1271.5" x2="407.0" y2="1261.0" stroke="#000" stroke-width="2.2" />
<line x1="407.0" y1="734.3" x2="407.0" y2="744.8" stroke="#000" stroke-width="2.2" />
<line x1="533.75" y1="1271.5" x2="533.75" y2="1266.0" stroke="#000" stroke-width="2.2" />
<line x1="533.75" y1="734.3" x2="533.75" y2="739.8" stroke="#000" stroke-width="2.2" />
<line x1="660.5" y1="1271.5" x2="660.5" y2="1261.0" stroke="#000" stroke-width="2.2" />
<line x1="660.5" y1="734.3" x2="660.5" y2="744.8" stroke="#000" stroke-width="2.2" />
<line x1="787.25" y1="1271.5" x2="787.25" y2="1266.0" stroke="#000" stroke-width="2.2" />
<line x1="787.25" y1="734.3" x2="787.25" y2="739.8" stroke="#000" stroke-width="2.2" />
<text x="407.0" y="1315.4" font-size="41.5" fill="#000" text-anchor="middle" >50</text>
<text x="661.3" y="1315.4" font-size="41.5" fill="#000" text-anchor="middle" >100</text>
<text x="533.4" y="1364.1999999999998" font-size="41.4" fill="#000" text-anchor="middle" >Position [nm]</text>
<text transform="translate(95.2,1031.3) rotate(-90)" font-size="45" text-anchor="middle" letter-spacing="-0.95">Band energy [eV]</text>
<text x="-2.7" y="762.5" font-size="57" fill="#000" text-anchor="start" >(b)</text>
<text x="276.5" y="779.4" font-size="40.5" fill="#000" text-anchor="middle" >Source</text>
<text x="533.2" y="779.4" font-size="40.5" fill="#000" text-anchor="middle" >Channel</text>
<text x="782" y="779.4" font-size="40.5" fill="#000" text-anchor="middle" >Drain</text>
<g clip-path="url(#cb)">
<polyline points="188.7,877.0 193.8,880.9 198.8,882.9 203.9,883.9 209.0,884.5 214.0,884.8 218.0,884.9 222.0,884.9 226.0,884.9 230.0,884.9 235.2,885.0 239.2,885.0 243.2,884.9 247.2,885.0 251.2,885.1 255.2,885.1 259.2,885.2 263.2,885.3 267.2,885.4 271.2,885.5 275.2,885.6 279.2,885.7 283.2,885.8 287.2,885.9 291.2,886.0 295.2,886.1 299.2,886.2 303.2,886.2 307.2,886.3 311.2,886.4 315.2,886.5 319.2,886.6 323.2,886.7 327.2,886.8 331.2,887.0 335.2,887.1 339.2,887.3 341.2,887.4 341.7,887.5 342.2,887.5 342.7,887.5 343.2,887.6 343.7,887.6 344.2,887.6 344.7,887.7 345.2,887.7 345.7,887.7 346.2,887.8 346.7,887.8 347.2,887.9 347.7,887.9 348.2,888.0 348.7,888.0 349.2,888.1 349.7,888.1 350.2,888.2 350.7,888.2 351.2,888.3 351.7,888.3 352.2,888.4 352.7,888.4 353.2,888.5 353.7,888.5 354.2,888.6 354.7,888.7 355.2,888.7 355.7,888.8 356.2,888.9 356.7,888.9 357.2,889.0 357.7,889.1 358.2,889.2 358.7,889.3 359.2,889.4 359.7,889.5 360.2,889.6 360.7,889.7 361.2,889.9 361.7,890.0 362.2,890.2 362.7,890.4 363.2,890.6 363.7,890.8 364.2,891.0 364.7,891.2 365.2,891.4 365.7,891.6 366.2,891.9 366.7,892.1 367.2,892.4 367.7,892.6 368.2,892.9 368.7,893.1 369.2,893.4 369.7,893.7 370.2,893.9 370.7,894.2 371.2,894.5 371.7,894.8 372.2,895.1 372.7,895.4 373.2,895.8 373.7,896.2 374.2,896.5 374.7,896.9 375.2,897.4 375.7,897.8 376.2,898.2 376.7,898.7 377.2,899.2 377.7,899.7 378.2,900.2 378.7,900.7 379.2,901.2 379.7,901.8 380.2,902.4 380.7,902.9 381.2,903.5 381.7,904.1 382.2,904.7 382.7,905.4 383.2,906.1 383.7,906.8 384.2,907.6 384.7,908.4 385.2,909.2 385.7,910.0 386.2,910.9 386.7,911.8 387.2,912.7 387.7,913.6 388.2,914.5 388.7,915.4 389.2,916.4 389.6,917.4 390.0,918.4 390.4,919.5 390.9,920.6 391.3,921.7 391.7,922.9 392.1,924.1 392.5,925.4 392.9,926.6 393.4,927.9 393.8,929.2 394.2,930.5 394.6,931.8 395.0,933.1 395.4,934.4 395.9,935.7 396.3,937.0 396.7,938.3 397.1,939.7 397.5,941.0 397.9,942.4 398.4,943.7 398.8,945.1 399.2,946.5 399.7,947.9 400.2,949.3 400.7,950.6 401.2,952.0 401.7,953.4 402.2,954.8 402.7,956.2 403.2,957.6 403.7,959.0 404.2,960.5 404.7,961.9 405.2,963.3 406.0,964.8 406.5,968.7 407.0,971.8 407.5,974.3 408.0,976.5 408.5,978.4 409.0,980.1 409.5,981.6 410.0,983.0 410.5,984.3 411.0,985.5 411.5,986.7 412.0,987.8 412.5,988.9 413.0,989.9 413.5,990.8 414.0,991.8 414.5,992.7 415.0,993.6 415.5,994.5 416.0,995.3 416.5,996.1 417.0,996.9 417.5,997.7 418.0,998.5 418.5,999.2 419.0,999.9 419.5,1000.7 420.0,1001.4 420.5,1002.0 421.0,1002.7 421.5,1003.4 422.0,1004.1 422.5,1004.7 423.0,1005.3 423.5,1006.0 424.0,1006.6 424.5,1007.2 425.0,1007.8 425.5,1008.4 426.0,1009.0 426.5,1009.6 427.0,1010.2 427.5,1010.8 428.0,1011.4 428.5,1012.0 429.0,1012.5 429.5,1013.1 430.0,1013.7 430.5,1014.2 431.0,1014.8 431.5,1015.3 432.0,1015.9 432.5,1016.4 433.0,1016.9 433.5,1017.5 434.0,1018.0 434.5,1018.5 435.0,1019.0 435.5,1019.5 436.0,1020.1 436.5,1020.6 437.0,1021.1 437.5,1021.5 438.0,1022.0 438.5,1022.5 439.0,1023.0 439.5,1023.5 440.0,1023.9 440.5,1024.4 441.0,1024.9 441.5,1025.3 442.0,1025.8 442.5,1026.2 443.0,1026.6 443.5,1027.1 444.0,1027.5 444.5,1027.9 445.0,1028.4 445.5,1028.8 446.0,1029.2 446.5,1029.6 447.0,1030.0 447.5,1030.4 448.0,1030.8 448.5,1031.1 449.0,1031.5 449.5,1031.9 450.0,1032.3 450.5,1032.6 451.0,1033.0 451.5,1033.3 452.0,1033.7 452.5,1034.0 453.0,1034.4 453.5,1034.7 454.0,1035.0 454.5,1035.4 455.0,1035.7 455.5,1036.0 456.0,1036.3 456.5,1036.7 457.0,1037.0 457.5,1037.3 458.0,1037.6 458.5,1037.9 459.0,1038.2 459.5,1038.4 460.0,1038.7 460.5,1039.0 461.0,1039.3 461.5,1039.6 462.0,1039.8 462.5,1040.1 463.0,1040.4 463.5,1040.6 464.0,1040.9 464.5,1041.2 465.0,1041.4 465.5,1041.7 466.0,1041.9 466.5,1042.1 467.0,1042.4 467.5,1042.6 468.0,1042.9 468.5,1043.1 469.0,1043.3 469.5,1043.5 470.0,1043.8 470.5,1044.0 471.0,1044.2 471.5,1044.4 472.0,1044.6 472.5,1044.8 473.0,1045.0 473.5,1045.2 474.0,1045.4 474.5,1045.6 475.0,1045.8 475.5,1046.0 476.0,1046.2 476.5,1046.4 477.0,1046.6 477.5,1046.8 478.0,1047.0 478.5,1047.2 479.0,1047.3 479.5,1047.5 480.0,1047.7 480.5,1047.9 481.0,1048.0 481.5,1048.2 482.0,1048.4 482.5,1048.5 483.0,1048.7 483.5,1048.8 484.0,1049.0 484.5,1049.2 485.0,1049.3 485.5,1049.5 486.0,1049.6 486.5,1049.8 487.0,1049.9 487.5,1050.1 488.0,1050.2 488.5,1050.3 489.0,1050.5 489.5,1050.6 490.0,1050.8 490.5,1050.9 491.0,1051.0 491.5,1051.2 492.0,1051.3 492.5,1051.4 493.0,1051.5 493.5,1051.7 494.0,1051.8 494.5,1051.9 495.0,1052.0 495.5,1052.2 496.0,1052.3 496.5,1052.4 497.0,1052.5 497.5,1052.6 498.0,1052.7 498.5,1052.8 499.0,1053.0 499.5,1053.1 500.0,1053.2 500.5,1053.3 501.0,1053.4 501.5,1053.5 502.0,1053.6 502.5,1053.7 503.0,1053.8 503.5,1053.9 504.0,1054.0 504.5,1054.1 505.0,1054.2 505.5,1054.3 506.0,1054.4 506.5,1054.5 507.0,1054.6 507.5,1054.6 508.0,1054.7 508.5,1054.8 509.0,1054.9 509.5,1055.0 510.0,1055.1 510.5,1055.2 511.0,1055.3 511.5,1055.3 512.0,1055.4 512.5,1055.5 513.0,1055.6 513.5,1055.7 514.0,1055.7 514.5,1055.8 515.0,1055.9 515.5,1056.0 516.0,1056.0 516.5,1056.1 517.0,1056.2 517.5,1056.2 518.0,1056.3 518.5,1056.4 519.0,1056.5 519.5,1056.5 520.0,1056.6 520.5,1056.7 521.0,1056.7 521.5,1056.8 522.0,1056.9 522.5,1056.9 523.0,1057.0 523.5,1057.0 524.0,1057.1 524.5,1057.2 525.0,1057.2 525.5,1057.3 526.0,1057.3 526.5,1057.4 527.0,1057.5 527.5,1057.5 528.0,1057.6 528.4,1057.6 533.4,1072.7 534.0,1072.7 534.5,1072.7 535.0,1072.7 535.5,1072.7 536.0,1072.8 536.5,1072.8 537.0,1072.8 537.5,1072.8 538.0,1072.8 538.5,1072.8 539.0,1072.8 539.5,1072.9 540.0,1072.9 542.0,1072.9 544.0,1073.0 546.0,1073.1 548.0,1073.1 550.0,1073.2 552.0,1073.3 554.0,1073.3 556.0,1073.4 558.0,1073.5 560.0,1073.5 562.0,1073.6 564.0,1073.7 566.0,1073.7 568.0,1073.8 570.0,1073.8 572.0,1073.9 574.0,1073.9 576.0,1073.9 578.0,1073.9 580.0,1073.9 582.0,1073.9 584.0,1074.0 586.0,1074.0 588.0,1074.0 590.0,1074.0 592.0,1074.0 594.0,1074.0 596.0,1074.0 598.0,1074.0 600.0,1074.0 602.0,1074.0 604.0,1074.0 606.0,1074.0 608.0,1074.0 610.0,1074.0 612.0,1074.0 614.0,1073.9 616.0,1073.9 618.0,1073.9 620.0,1073.9 622.0,1073.9 624.0,1073.9 626.0,1073.9 628.0,1073.9 630.0,1073.9 632.0,1073.9 634.0,1073.9 636.0,1073.9 638.0,1073.9 640.0,1073.9 642.0,1073.8 644.0,1073.8 646.0,1073.8 648.0,1073.8 650.0,1073.8 652.0,1073.8 654.0,1073.7 656.0,1073.6 658.0,1073.5 660.0,1073.3 662.0,1073.1 664.0,1072.9 666.0,1072.7 668.0,1072.4 670.0,1072.2 672.0,1071.9 674.0,1071.7 676.0,1071.5 678.0,1071.3 680.0,1071.1 682.0,1071.0 684.0,1070.9 686.0,1070.8 688.0,1070.8 690.0,1070.8 692.0,1070.8 694.0,1070.9 696.0,1070.9 698.0,1070.9 700.0,1071.0 702.0,1071.0 704.0,1071.1 706.0,1071.1 708.0,1071.3 710.0,1071.4 712.0,1071.7 714.0,1071.9 716.0,1072.2 718.0,1072.5 720.0,1072.8 722.0,1073.2 724.0,1073.5 726.0,1073.8 728.0,1074.2 730.0,1074.5 732.0,1074.7 734.0,1075.0 736.0,1075.2 738.0,1075.3 740.0,1075.4 742.0,1075.4 744.0,1075.5 746.0,1075.5 748.0,1075.6 750.0,1075.6 752.0,1075.7 754.0,1075.7 756.0,1075.7 758.0,1075.8 760.0,1075.8 762.0,1075.8 764.0,1075.9 766.0,1075.9 768.0,1075.9 770.0,1076.0 772.0,1076.0 774.0,1076.0 776.0,1076.0 778.0,1076.0 780.0,1076.1 782.0,1076.1 784.0,1076.1 786.0,1076.1 788.0,1076.1 790.0,1076.1 792.0,1076.1 794.0,1076.1 796.0,1076.1 798.0,1076.1 800.0,1076.1 802.0,1076.1 804.0,1076.1 806.0,1076.1 808.0,1076.1 810.0,1076.1 812.0,1076.1 814.0,1076.1 816.0,1076.1 818.0,1076.1 820.0,1076.1 822.0,1076.1 824.0,1076.1 826.0,1076.1 828.0,1076.1 830.0,1076.1 832.0,1076.1 834.0,1076.1 836.0,1076.1 838.0,1076.1 840.0,1076.1 842.0,1076.1 844.0,1076.1 846.0,1076.1 848.0,1076.1 850.0,1076.1 852.0,1076.1 854.0,1076.1 856.0,1076.1 858.0,1076.1 860.0,1076.1 862.0,1076.1 864.0,1076.1 866.0,1076.1 868.0,1076.1 870.0,1076.1 872.0,1076.2 874.0,1076.2 878.8,1076.6 882.1,1077.1 885.5,1078.2 888.9,1079.8 892.2,1082.3 895.5,1086.1 898.9,1108.0" fill="none" stroke="#0000ff" stroke-width="8.3" stroke-linejoin="round" />
<polyline points="188.7,947.6 193.8,951.5 198.8,953.5 203.9,954.5 209.0,955.1 214.0,955.4 218.0,955.5 222.0,955.5 226.0,955.5 230.0,955.5 235.2,955.6 239.2,955.6 243.2,955.5 247.2,955.6 251.2,955.7 255.2,955.7 259.2,955.8 263.2,955.9 267.2,956.0 271.2,956.1 275.2,956.2 279.2,956.3 283.2,956.4 287.2,956.5 291.2,956.6 295.2,956.6 299.2,956.7 303.2,956.9 307.2,956.9 311.2,957.0 315.2,957.1 319.2,957.2 323.2,957.3 327.2,957.4 331.2,957.5 335.2,957.6 339.2,957.8 341.2,957.8 341.7,957.9 342.2,957.9 342.7,957.9 343.2,957.9 343.7,958.0 344.2,958.0 344.7,958.0 345.2,958.0 345.7,958.1 346.2,958.1 346.7,958.1 347.2,958.2 347.7,958.2 348.2,958.2 348.7,958.2 349.2,958.3 349.7,958.3 350.2,958.3 350.7,958.4 351.2,958.4 351.7,958.4 352.2,958.5 352.7,958.5 353.2,958.6 353.7,958.7 354.2,958.8 354.7,958.9 355.2,959.0 355.7,959.1 356.2,959.2 356.7,959.3 357.2,959.4 357.7,959.6 358.2,959.7 358.7,959.8 359.2,960.0 359.7,960.2 360.2,960.3 360.7,960.5 361.2,960.7 361.7,960.9 362.2,961.0 362.7,961.2 363.2,961.4 363.7,961.6 364.2,961.8 364.7,962.0 365.2,962.3 365.7,962.5 366.2,962.7 366.7,962.9 367.2,963.1 367.7,963.4 368.2,963.6 368.7,963.8 369.2,964.1 369.7,964.4 370.2,964.7 370.7,965.0 371.2,965.3 371.7,965.7 372.2,966.1 372.7,966.4 373.2,966.8 373.7,967.2 374.2,967.7 374.7,968.1 375.2,968.6 375.7,969.0 376.2,969.5 376.7,970.0 377.2,970.5 377.7,971.0 378.2,971.6 378.7,972.1 379.2,972.7 379.7,973.2 380.2,973.8 380.7,974.4 381.2,975.0 381.7,975.6 382.2,976.3 382.7,977.1 383.2,977.8 383.7,978.7 384.2,979.5 384.7,980.4 385.2,981.4 385.7,982.3 386.2,983.3 386.7,984.3 387.2,985.3 387.7,986.4 388.2,987.4 388.7,988.5 389.2,989.6 389.6,990.7 390.0,991.8 390.4,992.9 390.9,994.1 391.3,995.3 391.7,996.6 392.1,997.9 392.5,999.2 392.9,1000.5 393.4,1001.9 393.8,1003.2 394.2,1004.6 394.6,1005.9 395.0,1007.3 395.4,1008.7 395.9,1010.1 396.3,1011.4 396.7,1012.8 397.1,1014.2 397.5,1015.6 397.9,1017.0 398.4,1018.4 398.8,1019.8 399.2,1021.3 399.7,1022.7 400.2,1024.2 400.7,1025.6 401.2,1027.1 401.7,1028.5 402.2,1029.9 402.7,1031.4 403.2,1032.8 403.7,1034.2 404.2,1035.6 404.7,1037.1 405.2,1038.5 406.0,1039.8 406.5,1041.8 407.0,1043.7 407.5,1045.5 408.0,1047.2 408.5,1048.9 409.0,1050.5 409.5,1052.1 410.0,1053.5 410.5,1055.0 411.0,1056.4 411.5,1057.7 412.0,1059.0 412.5,1060.3 413.0,1061.5 413.5,1062.7 414.0,1063.8 414.5,1064.9 415.0,1066.0 415.5,1067.0 416.0,1068.0 416.5,1069.0 417.0,1070.0 417.5,1070.9 418.0,1071.8 418.5,1072.7 419.0,1073.6 419.5,1074.4 420.0,1075.2 420.5,1076.0 421.0,1076.8 421.5,1077.5 422.0,1078.2 422.5,1079.0 423.0,1079.7 423.5,1080.3 424.0,1081.0 424.5,1081.7 425.0,1082.3 425.5,1082.9 426.0,1083.6 426.5,1084.2 427.0,1084.8 427.5,1085.3 428.0,1085.9 428.5,1086.5 429.0,1087.0 429.5,1087.6 430.0,1088.1 430.5,1088.7 431.0,1089.2 431.5,1089.7 432.0,1090.3 432.5,1090.8 433.0,1091.3 433.5,1091.8 434.0,1092.3 434.5,1092.8 435.0,1093.3 435.5,1093.8 436.0,1094.2 436.5,1094.7 437.0,1095.2 437.5,1095.7 438.0,1096.1 438.5,1096.6 439.0,1097.0 439.5,1097.5 440.0,1097.9 440.5,1098.4 441.0,1098.8 441.5,1099.2 442.0,1099.6 442.5,1100.1 443.0,1100.5 443.5,1100.9 444.0,1101.3 444.5,1101.7 445.0,1102.1 445.5,1102.5 446.0,1102.9 446.5,1103.2 447.0,1103.6 447.5,1104.0 448.0,1104.4 448.5,1104.7 449.0,1105.1 449.5,1105.4 450.0,1105.8 450.5,1106.1 451.0,1106.5 451.5,1106.8 452.0,1107.1 452.5,1107.4 453.0,1107.8 453.5,1108.1 454.0,1108.4 454.5,1108.7 455.0,1109.0 455.5,1109.3 456.0,1109.6 456.5,1109.9 457.0,1110.1 457.5,1110.4 458.0,1110.7 458.5,1111.0 459.0,1111.2 459.5,1111.5 460.0,1111.8 460.5,1112.0 461.0,1112.3 461.5,1112.5 462.0,1112.7 462.5,1113.0 463.0,1113.2 463.5,1113.5 464.0,1113.7 464.5,1113.9 465.0,1114.1 465.5,1114.3 466.0,1114.6 466.5,1114.8 467.0,1115.0 467.5,1115.2 468.0,1115.4 468.5,1115.6 469.0,1115.8 469.5,1116.0 470.0,1116.2 470.5,1116.4 471.0,1116.5 471.5,1116.7 472.0,1116.9 472.5,1117.1 473.0,1117.3 473.5,1117.4 474.0,1117.6 474.5,1117.8 475.0,1117.9 475.5,1118.1 476.0,1118.2 476.5,1118.4 477.0,1118.6 477.5,1118.7 478.0,1118.9 478.5,1119.0 479.0,1119.2 479.5,1119.3 480.0,1119.4 480.5,1119.6 481.0,1119.7 481.5,1119.8 482.0,1120.0 482.5,1120.1 483.0,1120.2 483.5,1120.4 484.0,1120.5 484.5,1120.6 485.0,1120.7 485.5,1120.8 486.0,1121.0 486.5,1121.1 487.0,1121.2 487.5,1121.3 488.0,1121.4 488.5,1121.5 489.0,1121.6 489.5,1121.7 490.0,1121.8 490.5,1121.9 491.0,1122.0 491.5,1122.1 492.0,1122.2 492.5,1122.3 493.0,1122.4 493.5,1122.5 494.0,1122.6 494.5,1122.7 495.0,1122.8 495.5,1122.9 496.0,1123.0 496.5,1123.1 497.0,1123.1 497.5,1123.2 498.0,1123.3 498.5,1123.4 499.0,1123.5 499.5,1123.5 500.0,1123.6 500.5,1123.7 501.0,1123.8 501.5,1123.8 502.0,1123.9 502.5,1124.0 503.0,1124.1 503.5,1124.1 504.0,1124.2 504.5,1124.3 505.0,1124.3 505.5,1124.4 506.0,1124.5 506.5,1124.5 507.0,1124.6 507.5,1124.6 508.0,1124.7 508.5,1124.8 509.0,1124.8 509.5,1124.9 510.0,1124.9 510.5,1125.0 511.0,1125.1 511.5,1125.1 512.0,1125.2 512.5,1125.2 513.0,1125.3 513.5,1125.3 514.0,1125.4 514.5,1125.4 515.0,1125.5 515.5,1125.5 516.0,1125.6 516.5,1125.6 517.0,1125.7 517.5,1125.7 518.0,1125.7 518.5,1125.8 519.0,1125.8 519.5,1125.9 520.0,1125.9 520.5,1126.0 521.0,1126.0 521.5,1126.0 522.0,1126.1 522.5,1126.1 523.0,1126.2 523.5,1126.2 524.0,1126.2 524.5,1126.3 525.0,1126.3 525.5,1126.3 526.0,1126.4 526.5,1126.4 527.0,1126.4 527.5,1126.5 528.0,1126.5 528.4,1126.5 533.4,1190.2 534.0,1190.2 534.5,1190.2 535.0,1190.3 535.5,1190.3 536.0,1190.3 536.5,1190.3 537.0,1190.3 537.5,1190.3 538.0,1190.3 538.5,1190.3 539.0,1190.3 539.5,1190.3 540.0,1190.4 542.0,1190.4 544.0,1190.4 546.0,1190.5 548.0,1190.5 550.0,1190.6 552.0,1190.6 554.0,1190.7 556.0,1190.7 558.0,1190.8 560.0,1190.8 562.0,1190.9 564.0,1190.9 566.0,1191.0 568.0,1191.0 570.0,1191.1 572.0,1191.1 574.0,1191.1 576.0,1191.1 578.0,1191.1 580.0,1191.1 582.0,1191.2 584.0,1191.2 586.0,1191.2 588.0,1191.2 590.0,1191.2 592.0,1191.2 594.0,1191.2 596.0,1191.2 598.0,1191.2 600.0,1191.2 602.0,1191.2 604.0,1191.2 606.0,1191.2 608.0,1191.2 610.0,1191.2 612.0,1191.2 614.0,1191.2 616.0,1191.2 618.0,1191.2 620.0,1191.2 622.0,1191.2 624.0,1191.2 626.0,1191.2 628.0,1191.2 630.0,1191.2 632.0,1191.2 634.0,1191.2 636.0,1191.2 638.0,1191.2 640.0,1191.2 642.0,1191.2 644.0,1191.2 646.0,1191.2 648.0,1191.2 650.0,1191.2 652.0,1191.2 654.0,1191.1 656.0,1191.0 658.0,1190.8 660.0,1190.6 662.0,1190.3 664.0,1189.9 666.0,1189.6 668.0,1189.2 670.0,1188.9 672.0,1188.5 674.0,1188.2 676.0,1187.9 678.0,1187.6 680.0,1187.3 682.0,1187.1 684.0,1187.0 686.0,1186.9 688.0,1186.9 690.0,1186.9 692.0,1186.9 694.0,1187.0 696.0,1187.0 698.0,1187.0 700.0,1187.1 702.0,1187.1 704.0,1187.2 706.0,1187.2 708.0,1187.4 710.0,1187.5 712.0,1187.7 714.0,1188.0 716.0,1188.2 718.0,1188.5 720.0,1188.8 722.0,1189.1 724.0,1189.4 726.0,1189.7 728.0,1190.0 730.0,1190.3 732.0,1190.6 734.0,1190.8 736.0,1191.0 738.0,1191.1 740.0,1191.2 742.0,1191.2 744.0,1191.3 746.0,1191.3 748.0,1191.4 750.0,1191.4 752.0,1191.5 754.0,1191.5 756.0,1191.5 758.0,1191.6 760.0,1191.6 762.0,1191.6 764.0,1191.7 766.0,1191.7 768.0,1191.7 770.0,1191.8 772.0,1191.8 774.0,1191.8 776.0,1191.8 778.0,1191.8 780.0,1191.8 782.0,1191.9 784.0,1191.9 786.0,1191.9 788.0,1191.9 790.0,1191.9 792.0,1191.9 794.0,1191.9 796.0,1191.9 798.0,1191.9 800.0,1191.9 802.0,1191.9 804.0,1191.9 806.0,1191.9 808.0,1191.9 810.0,1191.9 812.0,1191.9 814.0,1191.9 816.0,1191.9 818.0,1191.9 820.0,1191.9 822.0,1191.9 824.0,1191.9 826.0,1191.9 828.0,1191.9 830.0,1191.9 832.0,1191.9 834.0,1191.9 836.0,1191.9 838.0,1191.9 840.0,1191.9 842.0,1191.9 844.0,1191.9 846.0,1191.9 848.0,1191.9 850.0,1191.9 852.0,1191.9 854.0,1191.9 856.0,1191.9 858.0,1191.9 860.0,1191.9 862.0,1191.9 864.0,1191.9 866.0,1191.9 868.0,1191.9 870.0,1191.9 872.0,1192.0 874.0,1192.0 878.8,1192.4 882.1,1192.9 885.5,1194.0 888.9,1195.6 892.2,1198.1 895.5,1201.9 898.9,1223.8" fill="none" stroke="#0000ff" stroke-width="8.3" stroke-linejoin="round" />
<polyline points="168.4,763.0 173.5,828.6 178.5,855.5 183.6,869.6 188.7,877.1 193.8,881.1 198.8,883.2 203.9,884.4 209.0,885.1 214.0,885.5 218.0,885.7 222.0,885.8 226.0,886.0 230.0,886.1 234.0,886.2 238.0,886.3 242.0,886.4 246.0,886.5 250.0,886.6 254.0,886.6 258.0,886.7 262.0,886.8 266.0,886.9 270.0,887.0 274.0,887.1 278.0,887.2 282.0,887.3 286.0,887.4 290.0,887.5 294.0,887.6 298.0,887.7 302.0,887.7 306.0,887.8 310.0,887.9 314.0,888.0 318.0,888.1 322.0,888.2 326.0,888.3 330.0,888.5 334.0,888.6 338.0,888.8 340.0,888.9 340.5,889.0 341.0,889.0 341.5,889.0 342.0,889.1 342.5,889.1 343.0,889.1 343.5,889.2 344.0,889.2 344.5,889.2 345.0,889.3 345.5,889.3 346.0,889.4 346.5,889.4 347.0,889.5 347.5,889.5 348.0,889.6 348.5,889.6 349.0,889.7 349.5,889.7 350.0,889.8 350.5,889.8 351.0,889.9 351.5,889.9 352.0,890.0 352.5,890.0 353.0,890.1 353.5,890.2 354.0,890.2 354.5,890.3 355.0,890.4 355.5,890.4 356.0,890.5 356.5,890.6 357.0,890.7 357.5,890.8 358.0,890.9 358.5,891.0 359.0,891.1 359.5,891.2 360.0,891.4 360.5,891.5 361.0,891.7 361.5,891.9 362.0,892.1 362.5,892.3 363.0,892.5 363.5,892.7 364.0,892.9 364.5,893.1 365.0,893.4 365.5,893.6 366.0,893.9 366.5,894.1 367.0,894.4 367.5,894.6 368.0,894.9 368.5,895.2 369.0,895.4 369.5,895.7 370.0,896.0 370.5,896.3 371.0,896.6 371.5,896.9 372.0,897.3 372.5,897.7 373.0,898.0 373.5,898.4 374.0,898.9 374.5,899.3 375.0,899.7 375.5,900.2 376.0,900.7 376.5,901.2 377.0,901.7 377.5,902.2 378.0,902.7 378.5,903.3 379.0,903.9 379.5,904.4 380.0,905.0 380.5,905.6 381.0,906.2 381.5,906.9 382.0,907.6 382.5,908.3 383.0,909.1 383.5,909.9 384.0,910.7 384.5,911.5 385.0,912.4 385.5,913.3 386.0,914.2 386.5,915.1 387.0,916.0 387.5,916.9 388.0,917.9 388.5,918.9 389.0,919.9 389.5,921.0 390.0,922.1 390.5,923.2 391.0,924.4 391.5,925.6 392.0,926.9 392.5,928.1 393.0,929.4 393.5,930.7 394.0,932.0 394.5,933.3 395.0,934.6 395.5,935.9 396.0,937.2 396.5,938.5 397.0,939.8 397.5,941.2 398.0,942.5 398.5,943.9 399.0,945.2 399.5,946.6 400.0,948.0 400.5,949.4 401.0,950.8 401.5,952.1 402.0,953.5 402.5,954.9 403.0,956.3 403.5,957.7 404.0,959.1 404.5,960.5 405.0,962.0 405.5,963.4 406.0,964.8 406.0,987.0 406.5,987.9 407.0,988.9 407.5,989.9 408.0,991.0 408.5,992.1 409.0,993.2 409.5,994.3 410.0,995.4 410.5,996.6 411.0,997.7 411.5,998.8 412.0,999.9 412.5,1001.0 413.0,1002.1 413.5,1003.2 414.0,1004.3 414.5,1005.4 415.0,1006.5 415.5,1007.5 416.0,1008.6 416.5,1009.6 417.0,1010.7 417.5,1011.7 418.0,1012.7 418.5,1013.7 419.0,1014.7 419.5,1015.6 420.0,1016.6 420.5,1017.5 421.0,1018.5 421.5,1019.4 422.0,1020.3 422.5,1021.2 423.0,1022.1 423.5,1023.0 424.0,1023.8 424.5,1024.7 425.0,1025.5 425.5,1026.4 426.0,1027.2 426.5,1028.0 427.0,1028.8 427.5,1029.5 428.0,1030.3 428.5,1031.1 429.0,1031.8 429.5,1032.5 430.0,1033.3 430.5,1034.0 431.0,1034.7 431.5,1035.3 432.0,1036.0 432.5,1036.7 433.0,1037.3 433.5,1038.0 434.0,1038.6 434.5,1039.2 435.0,1039.9 435.5,1040.5 436.0,1041.1 436.5,1041.6 437.0,1042.2 437.5,1042.8 438.0,1043.3 438.5,1043.9 439.0,1044.4 439.5,1044.9 440.0,1045.5 440.5,1046.0 441.0,1046.5 441.5,1047.0 442.0,1047.4 442.5,1047.9 443.0,1048.4 443.5,1048.8 444.0,1049.3 444.5,1049.7 445.0,1050.2 445.5,1050.6 446.0,1051.0 446.5,1051.4 447.0,1051.8 447.5,1052.2 448.0,1052.6 448.5,1053.0 449.0,1053.4 449.5,1053.7 450.0,1054.1 450.5,1054.5 451.0,1054.8 451.5,1055.1 452.0,1055.5 452.5,1055.8 453.0,1056.1 453.5,1056.4 454.0,1056.8 454.5,1057.1 455.0,1057.4 455.5,1057.7 456.0,1058.0 456.5,1058.2 457.0,1058.5 457.5,1058.8 458.0,1059.1 458.5,1059.3 459.0,1059.6 459.5,1059.8 460.0,1060.1 460.5,1060.3 461.0,1060.6 461.5,1060.8 462.0,1061.0 462.5,1061.3 463.0,1061.5 463.5,1061.7 464.0,1061.9 464.5,1062.1 465.0,1062.3 465.5,1062.5 466.0,1062.7 466.5,1062.9 467.0,1063.1 467.5,1063.3 468.0,1063.5 468.5,1063.7 469.0,1063.8 469.5,1064.0 470.0,1064.2 470.5,1064.3 471.0,1064.5 471.5,1064.7 472.0,1064.8 472.5,1065.0 473.0,1065.1 473.5,1065.3 474.0,1065.4 474.5,1065.5 475.0,1065.7 475.5,1065.8 476.0,1065.9 476.5,1066.1 477.0,1066.2 477.5,1066.3 478.0,1066.5 478.5,1066.6 479.0,1066.7 479.5,1066.8 480.0,1066.9 480.5,1067.0 481.0,1067.1 481.5,1067.2 482.0,1067.3 482.5,1067.4 483.0,1067.5 483.5,1067.6 484.0,1067.7 484.5,1067.8 485.0,1067.9 485.5,1068.0 486.0,1068.1 486.5,1068.2 487.0,1068.3 487.5,1068.4 488.0,1068.4 488.5,1068.5 489.0,1068.6 489.5,1068.7 490.0,1068.8 490.5,1068.8 491.0,1068.9 491.5,1069.0 492.0,1069.0 492.5,1069.1 493.0,1069.2 493.5,1069.2 494.0,1069.3 494.5,1069.4 495.0,1069.4 495.5,1069.5 496.0,1069.5 496.5,1069.6 497.0,1069.7 497.5,1069.7 498.0,1069.8 498.5,1069.8 499.0,1069.9 499.5,1069.9 500.0,1070.0 500.5,1070.0 501.0,1070.1 501.5,1070.1 502.0,1070.2 502.5,1070.2 503.0,1070.2 503.5,1070.3 504.0,1070.3 504.5,1070.4 505.0,1070.4 505.5,1070.4 506.0,1070.5 506.5,1070.5 507.0,1070.6 507.5,1070.6 508.0,1070.6 508.5,1070.7 509.0,1070.7 509.5,1070.7 510.0,1070.8 510.5,1070.8 511.0,1070.8 511.5,1070.9 512.0,1070.9 512.5,1070.9 513.0,1070.9 513.5,1071.0 514.0,1071.0 514.5,1071.0 515.0,1071.0 515.5,1071.1 516.0,1071.1 516.5,1071.1 517.0,1071.1 517.5,1071.2 518.0,1071.2 518.5,1071.2 519.0,1071.2 519.5,1071.3 520.0,1071.3 520.5,1071.3 521.0,1071.3 521.5,1071.3 522.0,1071.4 522.5,1071.4 523.0,1071.4 523.5,1071.4 524.0,1071.4 524.5,1071.4 525.0,1071.5 525.5,1071.5 526.0,1071.5 526.5,1071.5 527.0,1071.5 527.5,1071.5 528.0,1071.6 528.5,1071.6 529.0,1071.6 529.5,1071.6 530.0,1071.6 530.5,1071.6 531.0,1071.6 531.5,1071.6 532.0,1071.7 532.5,1071.7 533.0,1071.7 533.5,1071.7 534.0,1071.7 534.5,1071.7 535.0,1071.7 535.5,1071.7 536.0,1071.8 536.5,1071.8 537.0,1071.8 537.5,1071.8 538.0,1071.8 538.5,1071.8 539.0,1071.8 539.5,1071.9 540.0,1071.9 542.0,1071.9 544.0,1072.0 546.0,1072.1 548.0,1072.1 550.0,1072.2 552.0,1072.3 554.0,1072.3 556.0,1072.4 558.0,1072.5 560.0,1072.5 562.0,1072.6 564.0,1072.7 566.0,1072.7 568.0,1072.8 570.0,1072.8 572.0,1072.9 574.0,1072.9 576.0,1072.9 578.0,1072.9 580.0,1072.9 582.0,1072.9 584.0,1073.0 586.0,1073.0 588.0,1073.0 590.0,1073.0 592.0,1073.0 594.0,1073.0 596.0,1073.0 598.0,1073.0 600.0,1073.0 602.0,1073.0 604.0,1073.0 606.0,1073.0 608.0,1073.0 610.0,1073.0 612.0,1073.0 614.0,1072.9 616.0,1072.9 618.0,1072.9 620.0,1072.9 622.0,1072.9 624.0,1072.9 626.0,1072.9 628.0,1072.9 630.0,1072.9 632.0,1072.9 634.0,1072.9 636.0,1072.9 638.0,1072.9 640.0,1072.9 642.0,1072.8 644.0,1072.8 646.0,1072.8 648.0,1072.8 650.0,1072.8 652.0,1072.8 654.0,1072.7 656.0,1072.6 658.0,1072.5 660.0,1072.3 662.0,1072.1 664.0,1071.9 666.0,1071.7 668.0,1071.4 670.0,1071.2 672.0,1070.9 674.0,1070.7 676.0,1070.5 678.0,1070.3 680.0,1070.1 682.0,1070.0 684.0,1069.9 686.0,1069.8 688.0,1069.8 690.0,1069.8 692.0,1069.8 694.0,1069.9 696.0,1069.9 698.0,1069.9 700.0,1070.0 702.0,1070.0 704.0,1070.1 706.0,1070.1 708.0,1070.3 710.0,1070.4 712.0,1070.7 714.0,1070.9 716.0,1071.2 718.0,1071.5 720.0,1071.8 722.0,1072.2 724.0,1072.5 726.0,1072.8 728.0,1073.2 730.0,1073.5 732.0,1073.7 734.0,1074.0 736.0,1074.2 738.0,1074.3 740.0,1074.4 742.0,1074.4 744.0,1074.5 746.0,1074.5 748.0,1074.6 750.0,1074.6 752.0,1074.7 754.0,1074.7 756.0,1074.7 758.0,1074.8 760.0,1074.8 762.0,1074.8 764.0,1074.9 766.0,1074.9 768.0,1074.9 770.0,1075.0 772.0,1075.0 774.0,1075.0 776.0,1075.0 778.0,1075.0 780.0,1075.1 782.0,1075.1 784.0,1075.1 786.0,1075.1 788.0,1075.1 790.0,1075.1 792.0,1075.1 794.0,1075.1 796.0,1075.1 798.0,1075.1 800.0,1075.1 802.0,1075.1 804.0,1075.1 806.0,1075.1 808.0,1075.1 810.0,1075.1 812.0,1075.1 814.0,1075.1 816.0,1075.1 818.0,1075.1 820.0,1075.1 822.0,1075.1 824.0,1075.1 826.0,1075.1 828.0,1075.1 830.0,1075.1 832.0,1075.1 834.0,1075.1 836.0,1075.1 838.0,1075.1 840.0,1075.1 842.0,1075.1 844.0,1075.1 846.0,1075.1 848.0,1075.1 850.0,1075.1 852.0,1075.1 854.0,1075.1 856.0,1075.1 858.0,1075.1 860.0,1075.1 862.0,1075.1 864.0,1075.1 866.0,1075.1 868.0,1075.1 870.0,1075.1 872.0,1075.2 874.0,1075.2 878.8,1075.6 882.1,1076.1 885.5,1077.2 888.9,1078.8 892.2,1081.3 895.5,1085.1 898.9,1107.0" fill="none" stroke="#ff00ff" stroke-width="8.3" stroke-linejoin="round" />
<polyline points="168.4,833.6 173.5,899.2 178.5,926.1 183.6,940.2 188.7,947.7 193.8,951.7 198.8,953.8 203.9,955.0 209.0,955.7 214.0,956.1 218.0,956.3 222.0,956.4 226.0,956.6 230.0,956.7 234.0,956.8 238.0,956.9 242.0,957.0 246.0,957.1 250.0,957.2 254.0,957.2 258.0,957.3 262.0,957.4 266.0,957.5 270.0,957.6 274.0,957.7 278.0,957.8 282.0,957.9 286.0,958.0 290.0,958.1 294.0,958.1 298.0,958.2 302.0,958.4 306.0,958.4 310.0,958.5 314.0,958.6 318.0,958.7 322.0,958.8 326.0,958.9 330.0,959.0 334.0,959.1 338.0,959.3 340.0,959.3 340.5,959.4 341.0,959.4 341.5,959.4 342.0,959.4 342.5,959.5 343.0,959.5 343.5,959.5 344.0,959.5 344.5,959.6 345.0,959.6 345.5,959.6 346.0,959.7 346.5,959.7 347.0,959.7 347.5,959.7 348.0,959.8 348.5,959.8 349.0,959.8 349.5,959.9 350.0,959.9 350.5,959.9 351.0,960.0 351.5,960.0 352.0,960.1 352.5,960.2 353.0,960.3 353.5,960.4 354.0,960.5 354.5,960.6 355.0,960.7 355.5,960.8 356.0,960.9 356.5,961.1 357.0,961.2 357.5,961.3 358.0,961.5 358.5,961.7 359.0,961.8 359.5,962.0 360.0,962.2 360.5,962.4 361.0,962.5 361.5,962.7 362.0,962.9 362.5,963.1 363.0,963.3 363.5,963.5 364.0,963.8 364.5,964.0 365.0,964.2 365.5,964.4 366.0,964.6 366.5,964.9 367.0,965.1 367.5,965.3 368.0,965.6 368.5,965.9 369.0,966.2 369.5,966.5 370.0,966.8 370.5,967.2 371.0,967.6 371.5,967.9 372.0,968.3 372.5,968.7 373.0,969.2 373.5,969.6 374.0,970.1 374.5,970.5 375.0,971.0 375.5,971.5 376.0,972.0 376.5,972.5 377.0,973.1 377.5,973.6 378.0,974.2 378.5,974.7 379.0,975.3 379.5,975.9 380.0,976.5 380.5,977.1 381.0,977.8 381.5,978.6 382.0,979.3 382.5,980.2 383.0,981.0 383.5,981.9 384.0,982.9 384.5,983.8 385.0,984.8 385.5,985.8 386.0,986.8 386.5,987.9 387.0,988.9 387.5,990.0 388.0,991.1 388.5,992.2 389.0,993.3 389.5,994.4 390.0,995.6 390.5,996.8 391.0,998.1 391.5,999.4 392.0,1000.7 392.5,1002.0 393.0,1003.4 393.5,1004.7 394.0,1006.1 394.5,1007.4 395.0,1008.8 395.5,1010.2 396.0,1011.6 396.5,1012.9 397.0,1014.3 397.5,1015.7 398.0,1017.1 398.5,1018.5 399.0,1019.9 399.5,1021.3 400.0,1022.8 400.5,1024.2 401.0,1025.7 401.5,1027.1 402.0,1028.6 402.5,1030.0 403.0,1031.4 403.5,1032.9 404.0,1034.3 404.5,1035.7 405.0,1037.1 405.5,1038.6 406.0,1040.0 406.0,1101.9 406.5,1103.8 407.0,1105.6 407.5,1107.4 408.0,1109.2 408.5,1110.9 409.0,1112.6 409.5,1114.2 410.0,1115.8 410.5,1117.4 411.0,1118.9 411.5,1120.5 412.0,1121.9 412.5,1123.4 413.0,1124.8 413.5,1126.2 414.0,1127.5 414.5,1128.8 415.0,1130.1 415.5,1131.4 416.0,1132.6 416.5,1133.8 417.0,1135.0 417.5,1136.2 418.0,1137.3 418.5,1138.4 419.0,1139.5 419.5,1140.6 420.0,1141.6 420.5,1142.6 421.0,1143.6 421.5,1144.6 422.0,1145.6 422.5,1146.5 423.0,1147.4 423.5,1148.3 424.0,1149.2 424.5,1150.1 425.0,1150.9 425.5,1151.7 426.0,1152.5 426.5,1153.3 427.0,1154.1 427.5,1154.8 428.0,1155.6 428.5,1156.3 429.0,1157.0 429.5,1157.7 430.0,1158.4 430.5,1159.0 431.0,1159.7 431.5,1160.3 432.0,1160.9 432.5,1161.6 433.0,1162.2 433.5,1162.7 434.0,1163.3 434.5,1163.9 435.0,1164.4 435.5,1164.9 436.0,1165.5 436.5,1166.0 437.0,1166.5 437.5,1167.0 438.0,1167.5 438.5,1167.9 439.0,1168.4 439.5,1168.8 440.0,1169.3 440.5,1169.7 441.0,1170.1 441.5,1170.5 442.0,1170.9 442.5,1171.3 443.0,1171.7 443.5,1172.1 444.0,1172.5 444.5,1172.8 445.0,1173.2 445.5,1173.5 446.0,1173.9 446.5,1174.2 447.0,1174.5 447.5,1174.9 448.0,1175.2 448.5,1175.5 449.0,1175.8 449.5,1176.1 450.0,1176.4 450.5,1176.6 451.0,1176.9 451.5,1177.2 452.0,1177.5 452.5,1177.7 453.0,1178.0 453.5,1178.2 454.0,1178.5 454.5,1178.7 455.0,1178.9 455.5,1179.1 456.0,1179.4 456.5,1179.6 457.0,1179.8 457.5,1180.0 458.0,1180.2 458.5,1180.4 459.0,1180.6 459.5,1180.8 460.0,1181.0 460.5,1181.2 461.0,1181.3 461.5,1181.5 462.0,1181.7 462.5,1181.9 463.0,1182.0 463.5,1182.2 464.0,1182.3 464.5,1182.5 465.0,1182.6 465.5,1182.8 466.0,1182.9 466.5,1183.1 467.0,1183.2 467.5,1183.3 468.0,1183.5 468.5,1183.6 469.0,1183.7 469.5,1183.9 470.0,1184.0 470.5,1184.1 471.0,1184.2 471.5,1184.3 472.0,1184.4 472.5,1184.6 473.0,1184.7 473.5,1184.8 474.0,1184.9 474.5,1185.0 475.0,1185.1 475.5,1185.2 476.0,1185.3 476.5,1185.3 477.0,1185.4 477.5,1185.5 478.0,1185.6 478.5,1185.7 479.0,1185.8 479.5,1185.9 480.0,1185.9 480.5,1186.0 481.0,1186.1 481.5,1186.2 482.0,1186.2 482.5,1186.3 483.0,1186.4 483.5,1186.5 484.0,1186.5 484.5,1186.6 485.0,1186.6 485.5,1186.7 486.0,1186.8 486.5,1186.8 487.0,1186.9 487.5,1186.9 488.0,1187.0 488.5,1187.1 489.0,1187.1 489.5,1187.2 490.0,1187.2 490.5,1187.3 491.0,1187.3 491.5,1187.4 492.0,1187.4 492.5,1187.5 493.0,1187.5 493.5,1187.5 494.0,1187.6 494.5,1187.6 495.0,1187.7 495.5,1187.7 496.0,1187.8 496.5,1187.8 497.0,1187.8 497.5,1187.9 498.0,1187.9 498.5,1187.9 499.0,1188.0 499.5,1188.0 500.0,1188.0 500.5,1188.1 501.0,1188.1 501.5,1188.1 502.0,1188.2 502.5,1188.2 503.0,1188.2 503.5,1188.3 504.0,1188.3 504.5,1188.3 505.0,1188.3 505.5,1188.4 506.0,1188.4 506.5,1188.4 507.0,1188.4 507.5,1188.5 508.0,1188.5 508.5,1188.5 509.0,1188.5 509.5,1188.6 510.0,1188.6 510.5,1188.6 511.0,1188.6 511.5,1188.7 512.0,1188.7 512.5,1188.7 513.0,1188.7 513.5,1188.7 514.0,1188.7 514.5,1188.8 515.0,1188.8 515.5,1188.8 516.0,1188.8 516.5,1188.8 517.0,1188.8 517.5,1188.9 518.0,1188.9 518.5,1188.9 519.0,1188.9 519.5,1188.9 520.0,1188.9 520.5,1189.0 521.0,1189.0 521.5,1189.0 522.0,1189.0 522.5,1189.0 523.0,1189.0 523.5,1189.0 524.0,1189.0 524.5,1189.1 525.0,1189.1 525.5,1189.1 526.0,1189.1 526.5,1189.1 527.0,1189.1 527.5,1189.1 528.0,1189.1 528.5,1189.1 529.0,1189.2 529.5,1189.2 530.0,1189.2 530.5,1189.2 531.0,1189.2 531.5,1189.2 532.0,1189.2 532.5,1189.2 533.0,1189.2 533.5,1189.2 534.0,1189.2 534.5,1189.2 535.0,1189.3 535.5,1189.3 536.0,1189.3 536.5,1189.3 537.0,1189.3 537.5,1189.3 538.0,1189.3 538.5,1189.3 539.0,1189.3 539.5,1189.3 540.0,1189.4 542.0,1189.4 544.0,1189.4 546.0,1189.5 548.0,1189.5 550.0,1189.6 552.0,1189.6 554.0,1189.7 556.0,1189.7 558.0,1189.8 560.0,1189.8 562.0,1189.9 564.0,1189.9 566.0,1190.0 568.0,1190.0 570.0,1190.1 572.0,1190.1 574.0,1190.1 576.0,1190.1 578.0,1190.1 580.0,1190.1 582.0,1190.2 584.0,1190.2 586.0,1190.2 588.0,1190.2 590.0,1190.2 592.0,1190.2 594.0,1190.2 596.0,1190.2 598.0,1190.2 600.0,1190.2 602.0,1190.2 604.0,1190.2 606.0,1190.2 608.0,1190.2 610.0,1190.2 612.0,1190.2 614.0,1190.2 616.0,1190.2 618.0,1190.2 620.0,1190.2 622.0,1190.2 624.0,1190.2 626.0,1190.2 628.0,1190.2 630.0,1190.2 632.0,1190.2 634.0,1190.2 636.0,1190.2 638.0,1190.2 640.0,1190.2 642.0,1190.2 644.0,1190.2 646.0,1190.2 648.0,1190.2 650.0,1190.2 652.0,1190.2 654.0,1190.1 656.0,1190.0 658.0,1189.8 660.0,1189.6 662.0,1189.3 664.0,1188.9 666.0,1188.6 668.0,1188.2 670.0,1187.9 672.0,1187.5 674.0,1187.2 676.0,1186.9 678.0,1186.6 680.0,1186.3 682.0,1186.1 684.0,1186.0 686.0,1185.9 688.0,1185.9 690.0,1185.9 692.0,1185.9 694.0,1186.0 696.0,1186.0 698.0,1186.0 700.0,1186.1 702.0,1186.1 704.0,1186.2 706.0,1186.2 708.0,1186.4 710.0,1186.5 712.0,1186.7 714.0,1187.0 716.0,1187.2 718.0,1187.5 720.0,1187.8 722.0,1188.1 724.0,1188.4 726.0,1188.7 728.0,1189.0 730.0,1189.3 732.0,1189.6 734.0,1189.8 736.0,1190.0 738.0,1190.1 740.0,1190.2 742.0,1190.2 744.0,1190.3 746.0,1190.3 748.0,1190.4 750.0,1190.4 752.0,1190.5 754.0,1190.5 756.0,1190.5 758.0,1190.6 760.0,1190.6 762.0,1190.6 764.0,1190.7 766.0,1190.7 768.0,1190.7 770.0,1190.8 772.0,1190.8 774.0,1190.8 776.0,1190.8 778.0,1190.8 780.0,1190.8 782.0,1190.9 784.0,1190.9 786.0,1190.9 788.0,1190.9 790.0,1190.9 792.0,1190.9 794.0,1190.9 796.0,1190.9 798.0,1190.9 800.0,1190.9 802.0,1190.9 804.0,1190.9 806.0,1190.9 808.0,1190.9 810.0,1190.9 812.0,1190.9 814.0,1190.9 816.0,1190.9 818.0,1190.9 820.0,1190.9 822.0,1190.9 824.0,1190.9 826.0,1190.9 828.0,1190.9 830.0,1190.9 832.0,1190.9 834.0,1190.9 836.0,1190.9 838.0,1190.9 840.0,1190.9 842.0,1190.9 844.0,1190.9 846.0,1190.9 848.0,1190.9 850.0,1190.9 852.0,1190.9 854.0,1190.9 856.0,1190.9 858.0,1190.9 860.0,1190.9 862.0,1190.9 864.0,1190.9 866.0,1190.9 868.0,1190.9 870.0,1190.9 872.0,1191.0 874.0,1191.0 878.8,1191.4 882.1,1191.9 885.5,1193.0 888.9,1194.6 892.2,1197.1 895.5,1200.9 898.9,1222.8" fill="none" stroke="#ff00ff" stroke-width="8.3" stroke-linejoin="round" />
</g>
<line x1="391.2" y1="734.3" x2="391.2" y2="1271.5" stroke="#000" stroke-width="1.9" />
<line x1="405.9" y1="951.6" x2="405.9" y2="1271.5" stroke="#000" stroke-width="1.9" stroke-dasharray="8 5.2" stroke-dashoffset="7"/>
<line x1="533.6" y1="951.6" x2="533.6" y2="1271.5" stroke="#000" stroke-width="1.9" stroke-dasharray="8 5.2" stroke-dashoffset="7"/>
<line x1="186" y1="1116.8" x2="228.7" y2="1116.8" stroke="#0000ff" stroke-width="3.5" />
<line x1="186" y1="1158.3" x2="228.7" y2="1158.3" stroke="#ff00ff" stroke-width="3.5" />
<text x="240.5" y="1129.8" font-size="33.7" fill="#0000ff" text-anchor="start" >Device C</text>
<text x="240.5" y="1170.8" font-size="33.7" fill="#ff00ff" text-anchor="start" >Device D</text>
<text x="468.9" y="1221.5" font-size="26.2" fill="#000" text-anchor="middle" >l = 25 nm</text>
<line x1="408.2" y1="1238.1" x2="531.2" y2="1238.1" stroke="#000" stroke-width="2.5" />
<polyline points="425.7,1228.3 408.2,1238.1 425.7,1247.8999999999999" fill="none" stroke="#000" stroke-width="2.5" stroke-linejoin="miter"/>
<text x="458.8" y="880.0" font-size="40">V<tspan font-size="25.7" dy="10">G</tspan><tspan dy="-10">= 1.5 V</tspan></text>
<text x="458.8" y="927.3" font-size="40">V<tspan font-size="25.7" dy="10">D</tspan><tspan dy="-10">= 1.0 V</tspan></text>
<text x="798" y="1063.7" font-size="40" fill="#000" text-anchor="start" >CB</text>
<text x="800" y="1240" font-size="40" fill="#000" text-anchor="start" >VB</text>
<rect x="168.5" y="1449.1" width="731.0" height="535.8000000000002" fill="none" stroke="#000" stroke-width="2.5"/>
<line x1="899.8" y1="1447.85" x2="899.8" y2="1986.15" stroke="#000" stroke-width="2.6" />
<line x1="178.83999999999992" y1="1984.9" x2="178.83999999999992" y2="1979.4" stroke="#000" stroke-width="2.7" />
<line x1="178.83999999999992" y1="1449.1" x2="178.83999999999992" y2="1454.6" stroke="#000" stroke-width="2.7" />
<line x1="199.7199999999999" y1="1984.9" x2="199.7199999999999" y2="1979.4" stroke="#000" stroke-width="2.7" />
<line x1="199.7199999999999" y1="1449.1" x2="199.7199999999999" y2="1454.6" stroke="#000" stroke-width="2.7" />
<line x1="220.5999999999999" y1="1984.9" x2="220.5999999999999" y2="1974.4" stroke="#000" stroke-width="2.7" />
<line x1="220.5999999999999" y1="1449.1" x2="220.5999999999999" y2="1459.6" stroke="#000" stroke-width="2.7" />
<text x="219.0999999999999" y="2030.2" font-size="41.5" fill="#000" text-anchor="middle" >-1.5</text>
<line x1="241.47999999999996" y1="1984.9" x2="241.47999999999996" y2="1979.4" stroke="#000" stroke-width="2.7" />
<line x1="241.47999999999996" y1="1449.1" x2="241.47999999999996" y2="1454.6" stroke="#000" stroke-width="2.7" />
<line x1="262.35999999999996" y1="1984.9" x2="262.35999999999996" y2="1979.4" stroke="#000" stroke-width="2.7" />
<line x1="262.35999999999996" y1="1449.1" x2="262.35999999999996" y2="1454.6" stroke="#000" stroke-width="2.7" />
<line x1="283.23999999999995" y1="1984.9" x2="283.23999999999995" y2="1979.4" stroke="#000" stroke-width="2.7" />
<line x1="283.23999999999995" y1="1449.1" x2="283.23999999999995" y2="1454.6" stroke="#000" stroke-width="2.7" />
<line x1="304.1199999999999" y1="1984.9" x2="304.1199999999999" y2="1979.4" stroke="#000" stroke-width="2.7" />
<line x1="304.1199999999999" y1="1449.1" x2="304.1199999999999" y2="1454.6" stroke="#000" stroke-width="2.7" />
<line x1="324.99999999999994" y1="1984.9" x2="324.99999999999994" y2="1974.4" stroke="#000" stroke-width="2.7" />
<line x1="324.99999999999994" y1="1449.1" x2="324.99999999999994" y2="1459.6" stroke="#000" stroke-width="2.7" />
<text x="323.49999999999994" y="2030.2" font-size="41.5" fill="#000" text-anchor="middle" >-1.0</text>
<line x1="345.87999999999994" y1="1984.9" x2="345.87999999999994" y2="1979.4" stroke="#000" stroke-width="2.7" />
<line x1="345.87999999999994" y1="1449.1" x2="345.87999999999994" y2="1454.6" stroke="#000" stroke-width="2.7" />
<line x1="366.75999999999993" y1="1984.9" x2="366.75999999999993" y2="1979.4" stroke="#000" stroke-width="2.7" />
<line x1="366.75999999999993" y1="1449.1" x2="366.75999999999993" y2="1454.6" stroke="#000" stroke-width="2.7" />
<line x1="387.64" y1="1984.9" x2="387.64" y2="1979.4" stroke="#000" stroke-width="2.7" />
<line x1="387.64" y1="1449.1" x2="387.64" y2="1454.6" stroke="#000" stroke-width="2.7" />
<line x1="408.52" y1="1984.9" x2="408.52" y2="1979.4" stroke="#000" stroke-width="2.7" />
<line x1="408.52" y1="1449.1" x2="408.52" y2="1454.6" stroke="#000" stroke-width="2.7" />
<line x1="429.4" y1="1984.9" x2="429.4" y2="1974.4" stroke="#000" stroke-width="2.7" />
<line x1="429.4" y1="1449.1" x2="429.4" y2="1459.6" stroke="#000" stroke-width="2.7" />
<text x="427.9" y="2030.2" font-size="41.5" fill="#000" text-anchor="middle" >-0.5</text>
<line x1="450.28" y1="1984.9" x2="450.28" y2="1979.4" stroke="#000" stroke-width="2.7" />
<line x1="450.28" y1="1449.1" x2="450.28" y2="1454.6" stroke="#000" stroke-width="2.7" />
<line x1="471.15999999999997" y1="1984.9" x2="471.15999999999997" y2="1979.4" stroke="#000" stroke-width="2.7" />
<line x1="471.15999999999997" y1="1449.1" x2="471.15999999999997" y2="1454.6" stroke="#000" stroke-width="2.7" />
<line x1="492.03999999999996" y1="1984.9" x2="492.03999999999996" y2="1979.4" stroke="#000" stroke-width="2.7" />
<line x1="492.03999999999996" y1="1449.1" x2="492.03999999999996" y2="1454.6" stroke="#000" stroke-width="2.7" />
<line x1="512.92" y1="1984.9" x2="512.92" y2="1979.4" stroke="#000" stroke-width="2.7" />
<line x1="512.92" y1="1449.1" x2="512.92" y2="1454.6" stroke="#000" stroke-width="2.7" />
<line x1="533.8" y1="1984.9" x2="533.8" y2="1974.4" stroke="#000" stroke-width="2.7" />
<line x1="533.8" y1="1449.1" x2="533.8" y2="1459.6" stroke="#000" stroke-width="2.7" />
<text x="534.5999999999999" y="2030.2" font-size="41.5" fill="#000" text-anchor="middle" >0.0</text>
<line x1="554.68" y1="1984.9" x2="554.68" y2="1979.4" stroke="#000" stroke-width="2.7" />
<line x1="554.68" y1="1449.1" x2="554.68" y2="1454.6" stroke="#000" stroke-width="2.7" />
<line x1="575.56" y1="1984.9" x2="575.56" y2="1979.4" stroke="#000" stroke-width="2.7" />
<line x1="575.56" y1="1449.1" x2="575.56" y2="1454.6" stroke="#000" stroke-width="2.7" />
<line x1="596.4399999999999" y1="1984.9" x2="596.4399999999999" y2="1979.4" stroke="#000" stroke-width="2.7" />
<line x1="596.4399999999999" y1="1449.1" x2="596.4399999999999" y2="1454.6" stroke="#000" stroke-width="2.7" />
<line x1="617.3199999999999" y1="1984.9" x2="617.3199999999999" y2="1979.4" stroke="#000" stroke-width="2.7" />
<line x1="617.3199999999999" y1="1449.1" x2="617.3199999999999" y2="1454.6" stroke="#000" stroke-width="2.7" />
<line x1="638.1999999999999" y1="1984.9" x2="638.1999999999999" y2="1974.4" stroke="#000" stroke-width="2.7" />
<line x1="638.1999999999999" y1="1449.1" x2="638.1999999999999" y2="1459.6" stroke="#000" stroke-width="2.7" />
<text x="638.9999999999999" y="2030.2" font-size="41.5" fill="#000" text-anchor="middle" >0.5</text>
<line x1="659.0799999999999" y1="1984.9" x2="659.0799999999999" y2="1979.4" stroke="#000" stroke-width="2.7" />
<line x1="659.0799999999999" y1="1449.1" x2="659.0799999999999" y2="1454.6" stroke="#000" stroke-width="2.7" />
<line x1="679.9599999999999" y1="1984.9" x2="679.9599999999999" y2="1979.4" stroke="#000" stroke-width="2.7" />
<line x1="679.9599999999999" y1="1449.1" x2="679.9599999999999" y2="1454.6" stroke="#000" stroke-width="2.7" />
<line x1="700.8399999999999" y1="1984.9" x2="700.8399999999999" y2="1979.4" stroke="#000" stroke-width="2.7" />
<line x1="700.8399999999999" y1="1449.1" x2="700.8399999999999" y2="1454.6" stroke="#000" stroke-width="2.7" />
<line x1="721.72" y1="1984.9" x2="721.72" y2="1979.4" stroke="#000" stroke-width="2.7" />
<line x1="721.72" y1="1449.1" x2="721.72" y2="1454.6" stroke="#000" stroke-width="2.7" />
<line x1="742.5999999999999" y1="1984.9" x2="742.5999999999999" y2="1974.4" stroke="#000" stroke-width="2.7" />
<line x1="742.5999999999999" y1="1449.1" x2="742.5999999999999" y2="1459.6" stroke="#000" stroke-width="2.7" />
<text x="743.3999999999999" y="2030.2" font-size="41.5" fill="#000" text-anchor="middle" >1.0</text>
<line x1="763.48" y1="1984.9" x2="763.48" y2="1979.4" stroke="#000" stroke-width="2.7" />
<line x1="763.48" y1="1449.1" x2="763.48" y2="1454.6" stroke="#000" stroke-width="2.7" />
<line x1="784.3599999999999" y1="1984.9" x2="784.3599999999999" y2="1979.4" stroke="#000" stroke-width="2.7" />
<line x1="784.3599999999999" y1="1449.1" x2="784.3599999999999" y2="1454.6" stroke="#000" stroke-width="2.7" />
<line x1="805.24" y1="1984.9" x2="805.24" y2="1979.4" stroke="#000" stroke-width="2.7" />
<line x1="805.24" y1="1449.1" x2="805.24" y2="1454.6" stroke="#000" stroke-width="2.7" />
<line x1="826.1199999999999" y1="1984.9" x2="826.1199999999999" y2="1979.4" stroke="#000" stroke-width="2.7" />
<line x1="826.1199999999999" y1="1449.1" x2="826.1199999999999" y2="1454.6" stroke="#000" stroke-width="2.7" />
<line x1="847.0" y1="1984.9" x2="847.0" y2="1974.4" stroke="#000" stroke-width="2.7" />
<line x1="847.0" y1="1449.1" x2="847.0" y2="1459.6" stroke="#000" stroke-width="2.7" />
<text x="847.8" y="2030.2" font-size="41.5" fill="#000" text-anchor="middle" >1.5</text>
<line x1="867.88" y1="1984.9" x2="867.88" y2="1979.4" stroke="#000" stroke-width="2.7" />
<line x1="867.88" y1="1449.1" x2="867.88" y2="1454.6" stroke="#000" stroke-width="2.7" />
<line x1="888.76" y1="1984.9" x2="888.76" y2="1979.4" stroke="#000" stroke-width="2.7" />
<line x1="888.76" y1="1449.1" x2="888.76" y2="1454.6" stroke="#000" stroke-width="2.7" />
<line x1="168.5" y1="1976.4109541222758" x2="173.9" y2="1976.4109541222758" stroke="#000" stroke-width="2.9" />
<line x1="900.5" y1="1976.4109541222758" x2="894.1" y2="1976.4109541222758" stroke="#000" stroke-width="2.9" />
<line x1="168.5" y1="1971.4451806169054" x2="173.9" y2="1971.4451806169054" stroke="#000" stroke-width="2.9" />
<line x1="900.5" y1="1971.4451806169054" x2="894.1" y2="1971.4451806169054" stroke="#000" stroke-width="2.9" />
<line x1="168.5" y1="1967.9219082445516" x2="173.9" y2="1967.9219082445516" stroke="#000" stroke-width="2.9" />
<line x1="900.5" y1="1967.9219082445516" x2="894.1" y2="1967.9219082445516" stroke="#000" stroke-width="2.9" />
<line x1="168.5" y1="1965.1890458777243" x2="173.9" y2="1965.1890458777243" stroke="#000" stroke-width="2.9" />
<line x1="900.5" y1="1965.1890458777243" x2="894.1" y2="1965.1890458777243" stroke="#000" stroke-width="2.9" />
<line x1="168.5" y1="1962.9561347391814" x2="173.9" y2="1962.9561347391814" stroke="#000" stroke-width="2.9" />
<line x1="900.5" y1="1962.9561347391814" x2="894.1" y2="1962.9561347391814" stroke="#000" stroke-width="2.9" />
<line x1="168.5" y1="1961.068235271598" x2="173.9" y2="1961.068235271598" stroke="#000" stroke-width="2.9" />
<line x1="900.5" y1="1961.068235271598" x2="894.1" y2="1961.068235271598" stroke="#000" stroke-width="2.9" />
<line x1="168.5" y1="1959.4328623668273" x2="173.9" y2="1959.4328623668273" stroke="#000" stroke-width="2.9" />
<line x1="900.5" y1="1959.4328623668273" x2="894.1" y2="1959.4328623668273" stroke="#000" stroke-width="2.9" />
<line x1="168.5" y1="1957.9903612338112" x2="173.9" y2="1957.9903612338112" stroke="#000" stroke-width="2.9" />
<line x1="900.5" y1="1957.9903612338112" x2="894.1" y2="1957.9903612338112" stroke="#000" stroke-width="2.9" />
<line x1="168.5" y1="1956.7" x2="179.1" y2="1956.7" stroke="#000" stroke-width="3.0" />
<line x1="900.5" y1="1956.7" x2="888.9" y2="1956.7" stroke="#000" stroke-width="3.0" />
<line x1="168.5" y1="1948.2109541222758" x2="173.9" y2="1948.2109541222758" stroke="#000" stroke-width="2.9" />
<line x1="900.5" y1="1948.2109541222758" x2="894.1" y2="1948.2109541222758" stroke="#000" stroke-width="2.9" />
<line x1="168.5" y1="1943.2451806169056" x2="173.9" y2="1943.2451806169056" stroke="#000" stroke-width="2.9" />
<line x1="900.5" y1="1943.2451806169056" x2="894.1" y2="1943.2451806169056" stroke="#000" stroke-width="2.9" />
<line x1="168.5" y1="1939.7219082445515" x2="173.9" y2="1939.7219082445515" stroke="#000" stroke-width="2.9" />
<line x1="900.5" y1="1939.7219082445515" x2="894.1" y2="1939.7219082445515" stroke="#000" stroke-width="2.9" />
<line x1="168.5" y1="1936.9890458777243" x2="173.9" y2="1936.9890458777243" stroke="#000" stroke-width="2.9" />
<line x1="900.5" y1="1936.9890458777243" x2="894.1" y2="1936.9890458777243" stroke="#000" stroke-width="2.9" />
<line x1="168.5" y1="1934.7561347391813" x2="173.9" y2="1934.7561347391813" stroke="#000" stroke-width="2.9" />
<line x1="900.5" y1="1934.7561347391813" x2="894.1" y2="1934.7561347391813" stroke="#000" stroke-width="2.9" />
<line x1="168.5" y1="1932.868235271598" x2="173.9" y2="1932.868235271598" stroke="#000" stroke-width="2.9" />
<line x1="900.5" y1="1932.868235271598" x2="894.1" y2="1932.868235271598" stroke="#000" stroke-width="2.9" />
<line x1="168.5" y1="1931.2328623668272" x2="173.9" y2="1931.2328623668272" stroke="#000" stroke-width="2.9" />
<line x1="900.5" y1="1931.2328623668272" x2="894.1" y2="1931.2328623668272" stroke="#000" stroke-width="2.9" />
<line x1="168.5" y1="1929.790361233811" x2="173.9" y2="1929.790361233811" stroke="#000" stroke-width="2.9" />
<line x1="900.5" y1="1929.790361233811" x2="894.1" y2="1929.790361233811" stroke="#000" stroke-width="2.9" />
<line x1="168.5" y1="1928.5" x2="179.1" y2="1928.5" stroke="#000" stroke-width="3.0" />
<line x1="900.5" y1="1928.5" x2="888.9" y2="1928.5" stroke="#000" stroke-width="3.0" />
<line x1="168.5" y1="1920.0109541222757" x2="173.9" y2="1920.0109541222757" stroke="#000" stroke-width="2.9" />
<line x1="900.5" y1="1920.0109541222757" x2="894.1" y2="1920.0109541222757" stroke="#000" stroke-width="2.9" />
<line x1="168.5" y1="1915.0451806169056" x2="173.9" y2="1915.0451806169056" stroke="#000" stroke-width="2.9" />
<line x1="900.5" y1="1915.0451806169056" x2="894.1" y2="1915.0451806169056" stroke="#000" stroke-width="2.9" />
<line x1="168.5" y1="1911.5219082445515" x2="173.9" y2="1911.5219082445515" stroke="#000" stroke-width="2.9" />
<line x1="900.5" y1="1911.5219082445515" x2="894.1" y2="1911.5219082445515" stroke="#000" stroke-width="2.9" />
<line x1="168.5" y1="1908.7890458777242" x2="173.9" y2="1908.7890458777242" stroke="#000" stroke-width="2.9" />
<line x1="900.5" y1="1908.7890458777242" x2="894.1" y2="1908.7890458777242" stroke="#000" stroke-width="2.9" />
<line x1="168.5" y1="1906.5561347391813" x2="173.9" y2="1906.5561347391813" stroke="#000" stroke-width="2.9" />
<line x1="900.5" y1="1906.5561347391813" x2="894.1" y2="1906.5561347391813" stroke="#000" stroke-width="2.9" />
<line x1="168.5" y1="1904.668235271598" x2="173.9" y2="1904.668235271598" stroke="#000" stroke-width="2.9" />
<line x1="900.5" y1="1904.668235271598" x2="894.1" y2="1904.668235271598" stroke="#000" stroke-width="2.9" />
<line x1="168.5" y1="1903.0328623668272" x2="173.9" y2="1903.0328623668272" stroke="#000" stroke-width="2.9" />
<line x1="900.5" y1="1903.0328623668272" x2="894.1" y2="1903.0328623668272" stroke="#000" stroke-width="2.9" />
<line x1="168.5" y1="1901.590361233811" x2="173.9" y2="1901.590361233811" stroke="#000" stroke-width="2.9" />
<line x1="900.5" y1="1901.590361233811" x2="894.1" y2="1901.590361233811" stroke="#000" stroke-width="2.9" />
<line x1="168.5" y1="1900.3" x2="179.1" y2="1900.3" stroke="#000" stroke-width="3.0" />
<line x1="900.5" y1="1900.3" x2="888.9" y2="1900.3" stroke="#000" stroke-width="3.0" />
<line x1="168.5" y1="1891.8109541222757" x2="173.9" y2="1891.8109541222757" stroke="#000" stroke-width="2.9" />
<line x1="900.5" y1="1891.8109541222757" x2="894.1" y2="1891.8109541222757" stroke="#000" stroke-width="2.9" />
<line x1="168.5" y1="1886.8451806169055" x2="173.9" y2="1886.8451806169055" stroke="#000" stroke-width="2.9" />
<line x1="900.5" y1="1886.8451806169055" x2="894.1" y2="1886.8451806169055" stroke="#000" stroke-width="2.9" />
<line x1="168.5" y1="1883.3219082445514" x2="173.9" y2="1883.3219082445514" stroke="#000" stroke-width="2.9" />
<line x1="900.5" y1="1883.3219082445514" x2="894.1" y2="1883.3219082445514" stroke="#000" stroke-width="2.9" />
<line x1="168.5" y1="1880.5890458777244" x2="173.9" y2="1880.5890458777244" stroke="#000" stroke-width="2.9" />
<line x1="900.5" y1="1880.5890458777244" x2="894.1" y2="1880.5890458777244" stroke="#000" stroke-width="2.9" />
<line x1="168.5" y1="1878.3561347391812" x2="173.9" y2="1878.3561347391812" stroke="#000" stroke-width="2.9" />
<line x1="900.5" y1="1878.3561347391812" x2="894.1" y2="1878.3561347391812" stroke="#000" stroke-width="2.9" />
<line x1="168.5" y1="1876.4682352715981" x2="173.9" y2="1876.4682352715981" stroke="#000" stroke-width="2.9" />
<line x1="900.5" y1="1876.4682352715981" x2="894.1" y2="1876.4682352715981" stroke="#000" stroke-width="2.9" />
<line x1="168.5" y1="1874.8328623668272" x2="173.9" y2="1874.8328623668272" stroke="#000" stroke-width="2.9" />
<line x1="900.5" y1="1874.8328623668272" x2="894.1" y2="1874.8328623668272" stroke="#000" stroke-width="2.9" />
<line x1="168.5" y1="1873.390361233811" x2="173.9" y2="1873.390361233811" stroke="#000" stroke-width="2.9" />
<line x1="900.5" y1="1873.390361233811" x2="894.1" y2="1873.390361233811" stroke="#000" stroke-width="2.9" />
<line x1="168.5" y1="1872.1" x2="179.1" y2="1872.1" stroke="#000" stroke-width="3.0" />
<line x1="900.5" y1="1872.1" x2="888.9" y2="1872.1" stroke="#000" stroke-width="3.0" />
<line x1="168.5" y1="1863.6109541222759" x2="173.9" y2="1863.6109541222759" stroke="#000" stroke-width="2.9" />
<line x1="900.5" y1="1863.6109541222759" x2="894.1" y2="1863.6109541222759" stroke="#000" stroke-width="2.9" />
<line x1="168.5" y1="1858.6451806169057" x2="173.9" y2="1858.6451806169057" stroke="#000" stroke-width="2.9" />
<line x1="900.5" y1="1858.6451806169057" x2="894.1" y2="1858.6451806169057" stroke="#000" stroke-width="2.9" />
<line x1="168.5" y1="1855.1219082445514" x2="173.9" y2="1855.1219082445514" stroke="#000" stroke-width="2.9" />
<line x1="900.5" y1="1855.1219082445514" x2="894.1" y2="1855.1219082445514" stroke="#000" stroke-width="2.9" />
<line x1="168.5" y1="1852.3890458777244" x2="173.9" y2="1852.3890458777244" stroke="#000" stroke-width="2.9" />
<line x1="900.5" y1="1852.3890458777244" x2="894.1" y2="1852.3890458777244" stroke="#000" stroke-width="2.9" />
<line x1="168.5" y1="1850.1561347391812" x2="173.9" y2="1850.1561347391812" stroke="#000" stroke-width="2.9" />
<line x1="900.5" y1="1850.1561347391812" x2="894.1" y2="1850.1561347391812" stroke="#000" stroke-width="2.9" />
<line x1="168.5" y1="1848.2682352715979" x2="173.9" y2="1848.2682352715979" stroke="#000" stroke-width="2.9" />
<line x1="900.5" y1="1848.2682352715979" x2="894.1" y2="1848.2682352715979" stroke="#000" stroke-width="2.9" />
<line x1="168.5" y1="1846.6328623668273" x2="173.9" y2="1846.6328623668273" stroke="#000" stroke-width="2.9" />
<line x1="900.5" y1="1846.6328623668273" x2="894.1" y2="1846.6328623668273" stroke="#000" stroke-width="2.9" />
<line x1="168.5" y1="1845.190361233811" x2="173.9" y2="1845.190361233811" stroke="#000" stroke-width="2.9" />
<line x1="900.5" y1="1845.190361233811" x2="894.1" y2="1845.190361233811" stroke="#000" stroke-width="2.9" />
<line x1="168.5" y1="1843.9" x2="179.1" y2="1843.9" stroke="#000" stroke-width="3.0" />
<line x1="900.5" y1="1843.9" x2="888.9" y2="1843.9" stroke="#000" stroke-width="3.0" />
<line x1="168.5" y1="1835.4109541222758" x2="173.9" y2="1835.4109541222758" stroke="#000" stroke-width="2.9" />
<line x1="900.5" y1="1835.4109541222758" x2="894.1" y2="1835.4109541222758" stroke="#000" stroke-width="2.9" />
<line x1="168.5" y1="1830.4451806169054" x2="173.9" y2="1830.4451806169054" stroke="#000" stroke-width="2.9" />
<line x1="900.5" y1="1830.4451806169054" x2="894.1" y2="1830.4451806169054" stroke="#000" stroke-width="2.9" />
<line x1="168.5" y1="1826.9219082445516" x2="173.9" y2="1826.9219082445516" stroke="#000" stroke-width="2.9" />
<line x1="900.5" y1="1826.9219082445516" x2="894.1" y2="1826.9219082445516" stroke="#000" stroke-width="2.9" />
<line x1="168.5" y1="1824.1890458777243" x2="173.9" y2="1824.1890458777243" stroke="#000" stroke-width="2.9" />
<line x1="900.5" y1="1824.1890458777243" x2="894.1" y2="1824.1890458777243" stroke="#000" stroke-width="2.9" />
<line x1="168.5" y1="1821.9561347391814" x2="173.9" y2="1821.9561347391814" stroke="#000" stroke-width="2.9" />
<line x1="900.5" y1="1821.9561347391814" x2="894.1" y2="1821.9561347391814" stroke="#000" stroke-width="2.9" />
<line x1="168.5" y1="1820.068235271598" x2="173.9" y2="1820.068235271598" stroke="#000" stroke-width="2.9" />
<line x1="900.5" y1="1820.068235271598" x2="894.1" y2="1820.068235271598" stroke="#000" stroke-width="2.9" />
<line x1="168.5" y1="1818.4328623668273" x2="173.9" y2="1818.4328623668273" stroke="#000" stroke-width="2.9" />
<line x1="900.5" y1="1818.4328623668273" x2="894.1" y2="1818.4328623668273" stroke="#000" stroke-width="2.9" />
<line x1="168.5" y1="1816.9903612338112" x2="173.9" y2="1816.9903612338112" stroke="#000" stroke-width="2.9" />
<line x1="900.5" y1="1816.9903612338112" x2="894.1" y2="1816.9903612338112" stroke="#000" stroke-width="2.9" />
<line x1="168.5" y1="1815.7" x2="179.1" y2="1815.7" stroke="#000" stroke-width="3.0" />
<line x1="900.5" y1="1815.7" x2="888.9" y2="1815.7" stroke="#000" stroke-width="3.0" />
<line x1="168.5" y1="1807.2109541222758" x2="173.9" y2="1807.2109541222758" stroke="#000" stroke-width="2.9" />
<line x1="900.5" y1="1807.2109541222758" x2="894.1" y2="1807.2109541222758" stroke="#000" stroke-width="2.9" />
<line x1="168.5" y1="1802.2451806169056" x2="173.9" y2="1802.2451806169056" stroke="#000" stroke-width="2.9" />
<line x1="900.5" y1="1802.2451806169056" x2="894.1" y2="1802.2451806169056" stroke="#000" stroke-width="2.9" />
<line x1="168.5" y1="1798.7219082445515" x2="173.9" y2="1798.7219082445515" stroke="#000" stroke-width="2.9" />
<line x1="900.5" y1="1798.7219082445515" x2="894.1" y2="1798.7219082445515" stroke="#000" stroke-width="2.9" />
<line x1="168.5" y1="1795.9890458777243" x2="173.9" y2="1795.9890458777243" stroke="#000" stroke-width="2.9" />
<line x1="900.5" y1="1795.9890458777243" x2="894.1" y2="1795.9890458777243" stroke="#000" stroke-width="2.9" />
<line x1="168.5" y1="1793.7561347391813" x2="173.9" y2="1793.7561347391813" stroke="#000" stroke-width="2.9" />
<line x1="900.5" y1="1793.7561347391813" x2="894.1" y2="1793.7561347391813" stroke="#000" stroke-width="2.9" />
<line x1="168.5" y1="1791.868235271598" x2="173.9" y2="1791.868235271598" stroke="#000" stroke-width="2.9" />
<line x1="900.5" y1="1791.868235271598" x2="894.1" y2="1791.868235271598" stroke="#000" stroke-width="2.9" />
<line x1="168.5" y1="1790.2328623668272" x2="173.9" y2="1790.2328623668272" stroke="#000" stroke-width="2.9" />
<line x1="900.5" y1="1790.2328623668272" x2="894.1" y2="1790.2328623668272" stroke="#000" stroke-width="2.9" />
<line x1="168.5" y1="1788.7903612338112" x2="173.9" y2="1788.7903612338112" stroke="#000" stroke-width="2.9" />
<line x1="900.5" y1="1788.7903612338112" x2="894.1" y2="1788.7903612338112" stroke="#000" stroke-width="2.9" />
<line x1="168.5" y1="1787.5" x2="179.1" y2="1787.5" stroke="#000" stroke-width="3.0" />
<line x1="900.5" y1="1787.5" x2="888.9" y2="1787.5" stroke="#000" stroke-width="3.0" />
<line x1="168.5" y1="1779.0109541222757" x2="173.9" y2="1779.0109541222757" stroke="#000" stroke-width="2.9" />
<line x1="900.5" y1="1779.0109541222757" x2="894.1" y2="1779.0109541222757" stroke="#000" stroke-width="2.9" />
<line x1="168.5" y1="1774.0451806169056" x2="173.9" y2="1774.0451806169056" stroke="#000" stroke-width="2.9" />
<line x1="900.5" y1="1774.0451806169056" x2="894.1" y2="1774.0451806169056" stroke="#000" stroke-width="2.9" />
<line x1="168.5" y1="1770.5219082445515" x2="173.9" y2="1770.5219082445515" stroke="#000" stroke-width="2.9" />
<line x1="900.5" y1="1770.5219082445515" x2="894.1" y2="1770.5219082445515" stroke="#000" stroke-width="2.9" />
<line x1="168.5" y1="1767.7890458777242" x2="173.9" y2="1767.7890458777242" stroke="#000" stroke-width="2.9" />
<line x1="900.5" y1="1767.7890458777242" x2="894.1" y2="1767.7890458777242" stroke="#000" stroke-width="2.9" />
<line x1="168.5" y1="1765.5561347391813" x2="173.9" y2="1765.5561347391813" stroke="#000" stroke-width="2.9" />
<line x1="900.5" y1="1765.5561347391813" x2="894.1" y2="1765.5561347391813" stroke="#000" stroke-width="2.9" />
<line x1="168.5" y1="1763.668235271598" x2="173.9" y2="1763.668235271598" stroke="#000" stroke-width="2.9" />
<line x1="900.5" y1="1763.668235271598" x2="894.1" y2="1763.668235271598" stroke="#000" stroke-width="2.9" />
<line x1="168.5" y1="1762.0328623668272" x2="173.9" y2="1762.0328623668272" stroke="#000" stroke-width="2.9" />
<line x1="900.5" y1="1762.0328623668272" x2="894.1" y2="1762.0328623668272" stroke="#000" stroke-width="2.9" />
<line x1="168.5" y1="1760.590361233811" x2="173.9" y2="1760.590361233811" stroke="#000" stroke-width="2.9" />
<line x1="900.5" y1="1760.590361233811" x2="894.1" y2="1760.590361233811" stroke="#000" stroke-width="2.9" />
<line x1="168.5" y1="1759.3" x2="179.1" y2="1759.3" stroke="#000" stroke-width="3.0" />
<line x1="900.5" y1="1759.3" x2="888.9" y2="1759.3" stroke="#000" stroke-width="3.0" />
<line x1="168.5" y1="1750.8109541222757" x2="173.9" y2="1750.8109541222757" stroke="#000" stroke-width="2.9" />
<line x1="900.5" y1="1750.8109541222757" x2="894.1" y2="1750.8109541222757" stroke="#000" stroke-width="2.9" />
<line x1="168.5" y1="1745.8451806169055" x2="173.9" y2="1745.8451806169055" stroke="#000" stroke-width="2.9" />
<line x1="900.5" y1="1745.8451806169055" x2="894.1" y2="1745.8451806169055" stroke="#000" stroke-width="2.9" />
<line x1="168.5" y1="1742.3219082445514" x2="173.9" y2="1742.3219082445514" stroke="#000" stroke-width="2.9" />
<line x1="900.5" y1="1742.3219082445514" x2="894.1" y2="1742.3219082445514" stroke="#000" stroke-width="2.9" />
<line x1="168.5" y1="1739.5890458777244" x2="173.9" y2="1739.5890458777244" stroke="#000" stroke-width="2.9" />
<line x1="900.5" y1="1739.5890458777244" x2="894.1" y2="1739.5890458777244" stroke="#000" stroke-width="2.9" />
<line x1="168.5" y1="1737.3561347391812" x2="173.9" y2="1737.3561347391812" stroke="#000" stroke-width="2.9" />
<line x1="900.5" y1="1737.3561347391812" x2="894.1" y2="1737.3561347391812" stroke="#000" stroke-width="2.9" />
<line x1="168.5" y1="1735.468235271598" x2="173.9" y2="1735.468235271598" stroke="#000" stroke-width="2.9" />
<line x1="900.5" y1="1735.468235271598" x2="894.1" y2="1735.468235271598" stroke="#000" stroke-width="2.9" />
<line x1="168.5" y1="1733.8328623668272" x2="173.9" y2="1733.8328623668272" stroke="#000" stroke-width="2.9" />
<line x1="900.5" y1="1733.8328623668272" x2="894.1" y2="1733.8328623668272" stroke="#000" stroke-width="2.9" />
<line x1="168.5" y1="1732.390361233811" x2="173.9" y2="1732.390361233811" stroke="#000" stroke-width="2.9" />
<line x1="900.5" y1="1732.390361233811" x2="894.1" y2="1732.390361233811" stroke="#000" stroke-width="2.9" />
<line x1="168.5" y1="1731.1000000000001" x2="179.1" y2="1731.1000000000001" stroke="#000" stroke-width="3.0" />
<line x1="900.5" y1="1731.1000000000001" x2="888.9" y2="1731.1000000000001" stroke="#000" stroke-width="3.0" />
<line x1="168.5" y1="1722.6109541222759" x2="173.9" y2="1722.6109541222759" stroke="#000" stroke-width="2.9" />
<line x1="900.5" y1="1722.6109541222759" x2="894.1" y2="1722.6109541222759" stroke="#000" stroke-width="2.9" />
<line x1="168.5" y1="1717.6451806169055" x2="173.9" y2="1717.6451806169055" stroke="#000" stroke-width="2.9" />
<line x1="900.5" y1="1717.6451806169055" x2="894.1" y2="1717.6451806169055" stroke="#000" stroke-width="2.9" />
<line x1="168.5" y1="1714.1219082445514" x2="173.9" y2="1714.1219082445514" stroke="#000" stroke-width="2.9" />
<line x1="900.5" y1="1714.1219082445514" x2="894.1" y2="1714.1219082445514" stroke="#000" stroke-width="2.9" />
<line x1="168.5" y1="1711.3890458777244" x2="173.9" y2="1711.3890458777244" stroke="#000" stroke-width="2.9" />
<line x1="900.5" y1="1711.3890458777244" x2="894.1" y2="1711.3890458777244" stroke="#000" stroke-width="2.9" />
<line x1="168.5" y1="1709.1561347391812" x2="173.9" y2="1709.1561347391812" stroke="#000" stroke-width="2.9" />
<line x1="900.5" y1="1709.1561347391812" x2="894.1" y2="1709.1561347391812" stroke="#000" stroke-width="2.9" />
<line x1="168.5" y1="1707.268235271598" x2="173.9" y2="1707.268235271598" stroke="#000" stroke-width="2.9" />
<line x1="900.5" y1="1707.268235271598" x2="894.1" y2="1707.268235271598" stroke="#000" stroke-width="2.9" />
<line x1="168.5" y1="1705.6328623668273" x2="173.9" y2="1705.6328623668273" stroke="#000" stroke-width="2.9" />
<line x1="900.5" y1="1705.6328623668273" x2="894.1" y2="1705.6328623668273" stroke="#000" stroke-width="2.9" />
<line x1="168.5" y1="1704.190361233811" x2="173.9" y2="1704.190361233811" stroke="#000" stroke-width="2.9" />
<line x1="900.5" y1="1704.190361233811" x2="894.1" y2="1704.190361233811" stroke="#000" stroke-width="2.9" />
<line x1="168.5" y1="1702.9" x2="179.1" y2="1702.9" stroke="#000" stroke-width="3.0" />
<line x1="900.5" y1="1702.9" x2="888.9" y2="1702.9" stroke="#000" stroke-width="3.0" />
<line x1="168.5" y1="1694.4109541222758" x2="173.9" y2="1694.4109541222758" stroke="#000" stroke-width="2.9" />
<line x1="900.5" y1="1694.4109541222758" x2="894.1" y2="1694.4109541222758" stroke="#000" stroke-width="2.9" />
<line x1="168.5" y1="1689.4451806169056" x2="173.9" y2="1689.4451806169056" stroke="#000" stroke-width="2.9" />
<line x1="900.5" y1="1689.4451806169056" x2="894.1" y2="1689.4451806169056" stroke="#000" stroke-width="2.9" />
<line x1="168.5" y1="1685.9219082445516" x2="173.9" y2="1685.9219082445516" stroke="#000" stroke-width="2.9" />
<line x1="900.5" y1="1685.9219082445516" x2="894.1" y2="1685.9219082445516" stroke="#000" stroke-width="2.9" />
<line x1="168.5" y1="1683.1890458777243" x2="173.9" y2="1683.1890458777243" stroke="#000" stroke-width="2.9" />
<line x1="900.5" y1="1683.1890458777243" x2="894.1" y2="1683.1890458777243" stroke="#000" stroke-width="2.9" />
<line x1="168.5" y1="1680.9561347391814" x2="173.9" y2="1680.9561347391814" stroke="#000" stroke-width="2.9" />
<line x1="900.5" y1="1680.9561347391814" x2="894.1" y2="1680.9561347391814" stroke="#000" stroke-width="2.9" />
<line x1="168.5" y1="1679.068235271598" x2="173.9" y2="1679.068235271598" stroke="#000" stroke-width="2.9" />
<line x1="900.5" y1="1679.068235271598" x2="894.1" y2="1679.068235271598" stroke="#000" stroke-width="2.9" />
<line x1="168.5" y1="1677.4328623668273" x2="173.9" y2="1677.4328623668273" stroke="#000" stroke-width="2.9" />
<line x1="900.5" y1="1677.4328623668273" x2="894.1" y2="1677.4328623668273" stroke="#000" stroke-width="2.9" />
<line x1="168.5" y1="1675.990361233811" x2="173.9" y2="1675.990361233811" stroke="#000" stroke-width="2.9" />
<line x1="900.5" y1="1675.990361233811" x2="894.1" y2="1675.990361233811" stroke="#000" stroke-width="2.9" />
<line x1="168.5" y1="1674.7" x2="179.1" y2="1674.7" stroke="#000" stroke-width="3.0" />
<line x1="900.5" y1="1674.7" x2="888.9" y2="1674.7" stroke="#000" stroke-width="3.0" />
<line x1="168.5" y1="1666.2109541222758" x2="173.9" y2="1666.2109541222758" stroke="#000" stroke-width="2.9" />
<line x1="900.5" y1="1666.2109541222758" x2="894.1" y2="1666.2109541222758" stroke="#000" stroke-width="2.9" />
<line x1="168.5" y1="1661.2451806169056" x2="173.9" y2="1661.2451806169056" stroke="#000" stroke-width="2.9" />
<line x1="900.5" y1="1661.2451806169056" x2="894.1" y2="1661.2451806169056" stroke="#000" stroke-width="2.9" />
<line x1="168.5" y1="1657.7219082445515" x2="173.9" y2="1657.7219082445515" stroke="#000" stroke-width="2.9" />
<line x1="900.5" y1="1657.7219082445515" x2="894.1" y2="1657.7219082445515" stroke="#000" stroke-width="2.9" />
<line x1="168.5" y1="1654.9890458777243" x2="173.9" y2="1654.9890458777243" stroke="#000" stroke-width="2.9" />
<line x1="900.5" y1="1654.9890458777243" x2="894.1" y2="1654.9890458777243" stroke="#000" stroke-width="2.9" />
<line x1="168.5" y1="1652.7561347391813" x2="173.9" y2="1652.7561347391813" stroke="#000" stroke-width="2.9" />
<line x1="900.5" y1="1652.7561347391813" x2="894.1" y2="1652.7561347391813" stroke="#000" stroke-width="2.9" />
<line x1="168.5" y1="1650.868235271598" x2="173.9" y2="1650.868235271598" stroke="#000" stroke-width="2.9" />
<line x1="900.5" y1="1650.868235271598" x2="894.1" y2="1650.868235271598" stroke="#000" stroke-width="2.9" />
<line x1="168.5" y1="1649.2328623668272" x2="173.9" y2="1649.2328623668272" stroke="#000" stroke-width="2.9" />
<line x1="900.5" y1="1649.2328623668272" x2="894.1" y2="1649.2328623668272" stroke="#000" stroke-width="2.9" />
<line x1="168.5" y1="1647.7903612338112" x2="173.9" y2="1647.7903612338112" stroke="#000" stroke-width="2.9" />
<line x1="900.5" y1="1647.7903612338112" x2="894.1" y2="1647.7903612338112" stroke="#000" stroke-width="2.9" />
<line x1="168.5" y1="1646.5" x2="179.1" y2="1646.5" stroke="#000" stroke-width="3.0" />
<line x1="900.5" y1="1646.5" x2="888.9" y2="1646.5" stroke="#000" stroke-width="3.0" />
<line x1="168.5" y1="1638.0109541222757" x2="173.9" y2="1638.0109541222757" stroke="#000" stroke-width="2.9" />
<line x1="900.5" y1="1638.0109541222757" x2="894.1" y2="1638.0109541222757" stroke="#000" stroke-width="2.9" />
<line x1="168.5" y1="1633.0451806169056" x2="173.9" y2="1633.0451806169056" stroke="#000" stroke-width="2.9" />
<line x1="900.5" y1="1633.0451806169056" x2="894.1" y2="1633.0451806169056" stroke="#000" stroke-width="2.9" />
<line x1="168.5" y1="1629.5219082445515" x2="173.9" y2="1629.5219082445515" stroke="#000" stroke-width="2.9" />
<line x1="900.5" y1="1629.5219082445515" x2="894.1" y2="1629.5219082445515" stroke="#000" stroke-width="2.9" />
<line x1="168.5" y1="1626.7890458777242" x2="173.9" y2="1626.7890458777242" stroke="#000" stroke-width="2.9" />
<line x1="900.5" y1="1626.7890458777242" x2="894.1" y2="1626.7890458777242" stroke="#000" stroke-width="2.9" />
<line x1="168.5" y1="1624.5561347391813" x2="173.9" y2="1624.5561347391813" stroke="#000" stroke-width="2.9" />
<line x1="900.5" y1="1624.5561347391813" x2="894.1" y2="1624.5561347391813" stroke="#000" stroke-width="2.9" />
<line x1="168.5" y1="1622.668235271598" x2="173.9" y2="1622.668235271598" stroke="#000" stroke-width="2.9" />
<line x1="900.5" y1="1622.668235271598" x2="894.1" y2="1622.668235271598" stroke="#000" stroke-width="2.9" />
<line x1="168.5" y1="1621.0328623668272" x2="173.9" y2="1621.0328623668272" stroke="#000" stroke-width="2.9" />
<line x1="900.5" y1="1621.0328623668272" x2="894.1" y2="1621.0328623668272" stroke="#000" stroke-width="2.9" />
<line x1="168.5" y1="1619.590361233811" x2="173.9" y2="1619.590361233811" stroke="#000" stroke-width="2.9" />
<line x1="900.5" y1="1619.590361233811" x2="894.1" y2="1619.590361233811" stroke="#000" stroke-width="2.9" />
<line x1="168.5" y1="1618.3" x2="179.1" y2="1618.3" stroke="#000" stroke-width="3.0" />
<line x1="900.5" y1="1618.3" x2="888.9" y2="1618.3" stroke="#000" stroke-width="3.0" />
<line x1="168.5" y1="1609.8109541222757" x2="173.9" y2="1609.8109541222757" stroke="#000" stroke-width="2.9" />
<line x1="900.5" y1="1609.8109541222757" x2="894.1" y2="1609.8109541222757" stroke="#000" stroke-width="2.9" />
<line x1="168.5" y1="1604.8451806169055" x2="173.9" y2="1604.8451806169055" stroke="#000" stroke-width="2.9" />
<line x1="900.5" y1="1604.8451806169055" x2="894.1" y2="1604.8451806169055" stroke="#000" stroke-width="2.9" />
<line x1="168.5" y1="1601.3219082445514" x2="173.9" y2="1601.3219082445514" stroke="#000" stroke-width="2.9" />
<line x1="900.5" y1="1601.3219082445514" x2="894.1" y2="1601.3219082445514" stroke="#000" stroke-width="2.9" />
<line x1="168.5" y1="1598.5890458777244" x2="173.9" y2="1598.5890458777244" stroke="#000" stroke-width="2.9" />
<line x1="900.5" y1="1598.5890458777244" x2="894.1" y2="1598.5890458777244" stroke="#000" stroke-width="2.9" />
<line x1="168.5" y1="1596.3561347391812" x2="173.9" y2="1596.3561347391812" stroke="#000" stroke-width="2.9" />
<line x1="900.5" y1="1596.3561347391812" x2="894.1" y2="1596.3561347391812" stroke="#000" stroke-width="2.9" />
<line x1="168.5" y1="1594.468235271598" x2="173.9" y2="1594.468235271598" stroke="#000" stroke-width="2.9" />
<line x1="900.5" y1="1594.468235271598" x2="894.1" y2="1594.468235271598" stroke="#000" stroke-width="2.9" />
<line x1="168.5" y1="1592.8328623668272" x2="173.9" y2="1592.8328623668272" stroke="#000" stroke-width="2.9" />
<line x1="900.5" y1="1592.8328623668272" x2="894.1" y2="1592.8328623668272" stroke="#000" stroke-width="2.9" />
<line x1="168.5" y1="1591.390361233811" x2="173.9" y2="1591.390361233811" stroke="#000" stroke-width="2.9" />
<line x1="900.5" y1="1591.390361233811" x2="894.1" y2="1591.390361233811" stroke="#000" stroke-width="2.9" />
<line x1="168.5" y1="1590.1000000000001" x2="179.1" y2="1590.1000000000001" stroke="#000" stroke-width="3.0" />
<line x1="900.5" y1="1590.1000000000001" x2="888.9" y2="1590.1000000000001" stroke="#000" stroke-width="3.0" />
<line x1="168.5" y1="1581.6109541222759" x2="173.9" y2="1581.6109541222759" stroke="#000" stroke-width="2.9" />
<line x1="900.5" y1="1581.6109541222759" x2="894.1" y2="1581.6109541222759" stroke="#000" stroke-width="2.9" />
<line x1="168.5" y1="1576.6451806169055" x2="173.9" y2="1576.6451806169055" stroke="#000" stroke-width="2.9" />
<line x1="900.5" y1="1576.6451806169055" x2="894.1" y2="1576.6451806169055" stroke="#000" stroke-width="2.9" />
<line x1="168.5" y1="1573.1219082445516" x2="173.9" y2="1573.1219082445516" stroke="#000" stroke-width="2.9" />
<line x1="900.5" y1="1573.1219082445516" x2="894.1" y2="1573.1219082445516" stroke="#000" stroke-width="2.9" />
<line x1="168.5" y1="1570.3890458777244" x2="173.9" y2="1570.3890458777244" stroke="#000" stroke-width="2.9" />
<line x1="900.5" y1="1570.3890458777244" x2="894.1" y2="1570.3890458777244" stroke="#000" stroke-width="2.9" />
<line x1="168.5" y1="1568.1561347391812" x2="173.9" y2="1568.1561347391812" stroke="#000" stroke-width="2.9" />
<line x1="900.5" y1="1568.1561347391812" x2="894.1" y2="1568.1561347391812" stroke="#000" stroke-width="2.9" />
<line x1="168.5" y1="1566.268235271598" x2="173.9" y2="1566.268235271598" stroke="#000" stroke-width="2.9" />
<line x1="900.5" y1="1566.268235271598" x2="894.1" y2="1566.268235271598" stroke="#000" stroke-width="2.9" />
<line x1="168.5" y1="1564.6328623668273" x2="173.9" y2="1564.6328623668273" stroke="#000" stroke-width="2.9" />
<line x1="900.5" y1="1564.6328623668273" x2="894.1" y2="1564.6328623668273" stroke="#000" stroke-width="2.9" />
<line x1="168.5" y1="1563.190361233811" x2="173.9" y2="1563.190361233811" stroke="#000" stroke-width="2.9" />
<line x1="900.5" y1="1563.190361233811" x2="894.1" y2="1563.190361233811" stroke="#000" stroke-width="2.9" />
<line x1="168.5" y1="1561.9" x2="179.1" y2="1561.9" stroke="#000" stroke-width="3.0" />
<line x1="900.5" y1="1561.9" x2="888.9" y2="1561.9" stroke="#000" stroke-width="3.0" />
<line x1="168.5" y1="1553.4109541222758" x2="173.9" y2="1553.4109541222758" stroke="#000" stroke-width="2.9" />
<line x1="900.5" y1="1553.4109541222758" x2="894.1" y2="1553.4109541222758" stroke="#000" stroke-width="2.9" />
<line x1="168.5" y1="1548.4451806169056" x2="173.9" y2="1548.4451806169056" stroke="#000" stroke-width="2.9" />
<line x1="900.5" y1="1548.4451806169056" x2="894.1" y2="1548.4451806169056" stroke="#000" stroke-width="2.9" />
<line x1="168.5" y1="1544.9219082445516" x2="173.9" y2="1544.9219082445516" stroke="#000" stroke-width="2.9" />
<line x1="900.5" y1="1544.9219082445516" x2="894.1" y2="1544.9219082445516" stroke="#000" stroke-width="2.9" />
<line x1="168.5" y1="1542.1890458777243" x2="173.9" y2="1542.1890458777243" stroke="#000" stroke-width="2.9" />
<line x1="900.5" y1="1542.1890458777243" x2="894.1" y2="1542.1890458777243" stroke="#000" stroke-width="2.9" />
<line x1="168.5" y1="1539.9561347391814" x2="173.9" y2="1539.9561347391814" stroke="#000" stroke-width="2.9" />
<line x1="900.5" y1="1539.9561347391814" x2="894.1" y2="1539.9561347391814" stroke="#000" stroke-width="2.9" />
<line x1="168.5" y1="1538.068235271598" x2="173.9" y2="1538.068235271598" stroke="#000" stroke-width="2.9" />
<line x1="900.5" y1="1538.068235271598" x2="894.1" y2="1538.068235271598" stroke="#000" stroke-width="2.9" />
<line x1="168.5" y1="1536.4328623668273" x2="173.9" y2="1536.4328623668273" stroke="#000" stroke-width="2.9" />
<line x1="900.5" y1="1536.4328623668273" x2="894.1" y2="1536.4328623668273" stroke="#000" stroke-width="2.9" />
<line x1="168.5" y1="1534.990361233811" x2="173.9" y2="1534.990361233811" stroke="#000" stroke-width="2.9" />
<line x1="900.5" y1="1534.990361233811" x2="894.1" y2="1534.990361233811" stroke="#000" stroke-width="2.9" />
<line x1="168.5" y1="1533.7" x2="179.1" y2="1533.7" stroke="#000" stroke-width="3.0" />
<line x1="900.5" y1="1533.7" x2="888.9" y2="1533.7" stroke="#000" stroke-width="3.0" />
<line x1="168.5" y1="1525.2109541222758" x2="173.9" y2="1525.2109541222758" stroke="#000" stroke-width="2.9" />
<line x1="900.5" y1="1525.2109541222758" x2="894.1" y2="1525.2109541222758" stroke="#000" stroke-width="2.9" />
<line x1="168.5" y1="1520.2451806169056" x2="173.9" y2="1520.2451806169056" stroke="#000" stroke-width="2.9" />
<line x1="900.5" y1="1520.2451806169056" x2="894.1" y2="1520.2451806169056" stroke="#000" stroke-width="2.9" />
<line x1="168.5" y1="1516.7219082445515" x2="173.9" y2="1516.7219082445515" stroke="#000" stroke-width="2.9" />
<line x1="900.5" y1="1516.7219082445515" x2="894.1" y2="1516.7219082445515" stroke="#000" stroke-width="2.9" />
<line x1="168.5" y1="1513.9890458777243" x2="173.9" y2="1513.9890458777243" stroke="#000" stroke-width="2.9" />
<line x1="900.5" y1="1513.9890458777243" x2="894.1" y2="1513.9890458777243" stroke="#000" stroke-width="2.9" />
<line x1="168.5" y1="1511.7561347391813" x2="173.9" y2="1511.7561347391813" stroke="#000" stroke-width="2.9" />
<line x1="900.5" y1="1511.7561347391813" x2="894.1" y2="1511.7561347391813" stroke="#000" stroke-width="2.9" />
<line x1="168.5" y1="1509.868235271598" x2="173.9" y2="1509.868235271598" stroke="#000" stroke-width="2.9" />
<line x1="900.5" y1="1509.868235271598" x2="894.1" y2="1509.868235271598" stroke="#000" stroke-width="2.9" />
<line x1="168.5" y1="1508.2328623668272" x2="173.9" y2="1508.2328623668272" stroke="#000" stroke-width="2.9" />
<line x1="900.5" y1="1508.2328623668272" x2="894.1" y2="1508.2328623668272" stroke="#000" stroke-width="2.9" />
<line x1="168.5" y1="1506.7903612338112" x2="173.9" y2="1506.7903612338112" stroke="#000" stroke-width="2.9" />
<line x1="900.5" y1="1506.7903612338112" x2="894.1" y2="1506.7903612338112" stroke="#000" stroke-width="2.9" />
<line x1="168.5" y1="1505.5" x2="179.1" y2="1505.5" stroke="#000" stroke-width="3.0" />
<line x1="900.5" y1="1505.5" x2="888.9" y2="1505.5" stroke="#000" stroke-width="3.0" />
<line x1="168.5" y1="1497.0109541222757" x2="173.9" y2="1497.0109541222757" stroke="#000" stroke-width="2.9" />
<line x1="900.5" y1="1497.0109541222757" x2="894.1" y2="1497.0109541222757" stroke="#000" stroke-width="2.9" />
<line x1="168.5" y1="1492.0451806169056" x2="173.9" y2="1492.0451806169056" stroke="#000" stroke-width="2.9" />
<line x1="900.5" y1="1492.0451806169056" x2="894.1" y2="1492.0451806169056" stroke="#000" stroke-width="2.9" />
<line x1="168.5" y1="1488.5219082445515" x2="173.9" y2="1488.5219082445515" stroke="#000" stroke-width="2.9" />
<line x1="900.5" y1="1488.5219082445515" x2="894.1" y2="1488.5219082445515" stroke="#000" stroke-width="2.9" />
<line x1="168.5" y1="1485.7890458777242" x2="173.9" y2="1485.7890458777242" stroke="#000" stroke-width="2.9" />
<line x1="900.5" y1="1485.7890458777242" x2="894.1" y2="1485.7890458777242" stroke="#000" stroke-width="2.9" />
<line x1="168.5" y1="1483.5561347391813" x2="173.9" y2="1483.5561347391813" stroke="#000" stroke-width="2.9" />
<line x1="900.5" y1="1483.5561347391813" x2="894.1" y2="1483.5561347391813" stroke="#000" stroke-width="2.9" />
<line x1="168.5" y1="1481.668235271598" x2="173.9" y2="1481.668235271598" stroke="#000" stroke-width="2.9" />
<line x1="900.5" y1="1481.668235271598" x2="894.1" y2="1481.668235271598" stroke="#000" stroke-width="2.9" />
<line x1="168.5" y1="1480.0328623668272" x2="173.9" y2="1480.0328623668272" stroke="#000" stroke-width="2.9" />
<line x1="900.5" y1="1480.0328623668272" x2="894.1" y2="1480.0328623668272" stroke="#000" stroke-width="2.9" />
<line x1="168.5" y1="1478.590361233811" x2="173.9" y2="1478.590361233811" stroke="#000" stroke-width="2.9" />
<line x1="900.5" y1="1478.590361233811" x2="894.1" y2="1478.590361233811" stroke="#000" stroke-width="2.9" />
<line x1="168.5" y1="1477.3" x2="179.1" y2="1477.3" stroke="#000" stroke-width="3.0" />
<line x1="900.5" y1="1477.3" x2="888.9" y2="1477.3" stroke="#000" stroke-width="3.0" />
<line x1="168.5" y1="1468.8109541222757" x2="173.9" y2="1468.8109541222757" stroke="#000" stroke-width="2.9" />
<line x1="900.5" y1="1468.8109541222757" x2="894.1" y2="1468.8109541222757" stroke="#000" stroke-width="2.9" />
<line x1="168.5" y1="1463.8451806169055" x2="173.9" y2="1463.8451806169055" stroke="#000" stroke-width="2.9" />
<line x1="900.5" y1="1463.8451806169055" x2="894.1" y2="1463.8451806169055" stroke="#000" stroke-width="2.9" />
<line x1="168.5" y1="1460.3219082445514" x2="173.9" y2="1460.3219082445514" stroke="#000" stroke-width="2.9" />
<line x1="900.5" y1="1460.3219082445514" x2="894.1" y2="1460.3219082445514" stroke="#000" stroke-width="2.9" />
<line x1="168.5" y1="1457.5890458777244" x2="173.9" y2="1457.5890458777244" stroke="#000" stroke-width="2.9" />
<line x1="900.5" y1="1457.5890458777244" x2="894.1" y2="1457.5890458777244" stroke="#000" stroke-width="2.9" />
<line x1="168.5" y1="1455.3561347391812" x2="173.9" y2="1455.3561347391812" stroke="#000" stroke-width="2.9" />
<line x1="900.5" y1="1455.3561347391812" x2="894.1" y2="1455.3561347391812" stroke="#000" stroke-width="2.9" />
<line x1="168.5" y1="1453.468235271598" x2="173.9" y2="1453.468235271598" stroke="#000" stroke-width="2.9" />
<line x1="900.5" y1="1453.468235271598" x2="894.1" y2="1453.468235271598" stroke="#000" stroke-width="2.9" />
<line x1="168.5" y1="1451.8328623668272" x2="173.9" y2="1451.8328623668272" stroke="#000" stroke-width="2.9" />
<line x1="900.5" y1="1451.8328623668272" x2="894.1" y2="1451.8328623668272" stroke="#000" stroke-width="2.9" />
<line x1="168.5" y1="1450.390361233811" x2="173.9" y2="1450.390361233811" stroke="#000" stroke-width="2.9" />
<line x1="900.5" y1="1450.390361233811" x2="894.1" y2="1450.390361233811" stroke="#000" stroke-width="2.9" />
<line x1="168.5" y1="1449.1000000000001" x2="179.1" y2="1449.1000000000001" stroke="#000" stroke-width="3.0" />
<line x1="900.5" y1="1449.1000000000001" x2="888.9" y2="1449.1000000000001" stroke="#000" stroke-width="3.0" />
<text x="134.0" y="1550.3" font-size="43" text-anchor="end">10</text>
<text x="135.2" y="1527.2" font-size="25.3">-5</text>
<text x="134.0" y="1663.1" font-size="43" text-anchor="end">10</text>
<text x="135.2" y="1640.0" font-size="25.3">-9</text>
<text x="120.4" y="1775.9" font-size="43" text-anchor="end">10</text>
<text x="121.60000000000001" y="1752.8" font-size="25.3">-13</text>
<text x="120.4" y="1888.7" font-size="43" text-anchor="end">10</text>
<text x="121.60000000000001" y="1865.6" font-size="25.3">-17</text>
<text x="120.4" y="2001.5" font-size="43" text-anchor="end">10</text>
<text x="121.60000000000001" y="1978.4" font-size="25.3">-21</text>
<text x="533.0" y="2092" font-size="41.3" fill="#000" text-anchor="middle" >Gate voltage [V]</text>
<text transform="translate(49.3,1727.3) rotate(-90)" font-size="43" text-anchor="middle">Drain current [A]</text>
<text x="-2.3" y="1462" font-size="57" fill="#000" text-anchor="start" >(c)</text>
<polyline points="219.8,1762.9 230.3,1765.0 240.7,1768.2 251.2,1771.9 261.6,1776.4 272.1,1780.6 282.5,1785.0 293.0,1789.7 303.5,1797.5 313.9,1803.0 324.4,1809.1 334.8,1816.2 345.3,1823.6 355.7,1832.6 366.2,1840.5 376.7,1851.4 387.1,1859.9 397.6,1867.5 408.0,1878.3 418.5,1884.7 428.9,1896.0 439.4,1878.3 449.9,1890.0 460.3,1886.6 470.8,1930.6 481.2,1871.6 491.7,1907.6 502.1,1873.0 512.6,1885.0 523.1,1885.0 533.5,1885.0 544.0,1882.0 554.4,1896.6 564.9,1875.0 575.3,1872.3 585.8,1873.3 596.3,1873.3 606.7,1870.6 617.2,1867.3 627.6,1868.3 638.1,1869.3 648.5,1870.6 659.0,1785.8 669.5,1746.1 679.9,1717.3 690.4,1692.0 700.8,1670.0 711.3,1651.1 721.7,1634.4 732.2,1620.8 742.7,1609.4 753.1,1599.2 763.6,1589.8 774.0,1581.4 784.5,1574.6 794.9,1568.2 805.4,1563.3 815.8,1558.7 826.3,1554.9 836.8,1551.5 847.2,1548.1" fill="none" stroke="#0000ff" stroke-width="2.5" stroke-linejoin="round" />
<circle cx="219.8" cy="1762.9" r="9.0" fill="url(#gb)"/>
<circle cx="230.3" cy="1765.0" r="9.0" fill="url(#gb)"/>
<circle cx="240.7" cy="1768.2" r="9.0" fill="url(#gb)"/>
<circle cx="251.2" cy="1771.9" r="9.0" fill="url(#gb)"/>
<circle cx="261.6" cy="1776.4" r="9.0" fill="url(#gb)"/>
<circle cx="272.1" cy="1780.6" r="9.0" fill="url(#gb)"/>
<circle cx="282.5" cy="1785.0" r="9.0" fill="url(#gb)"/>
<circle cx="293.0" cy="1789.7" r="9.0" fill="url(#gb)"/>
<circle cx="303.5" cy="1797.5" r="9.0" fill="url(#gb)"/>
<circle cx="313.9" cy="1803.0" r="9.0" fill="url(#gb)"/>
<circle cx="324.4" cy="1809.1" r="9.0" fill="url(#gb)"/>
<circle cx="334.8" cy="1816.2" r="9.0" fill="url(#gb)"/>
<circle cx="345.3" cy="1823.6" r="9.0" fill="url(#gb)"/>
<circle cx="355.7" cy="1832.6" r="9.0" fill="url(#gb)"/>
<circle cx="366.2" cy="1840.5" r="9.0" fill="url(#gb)"/>
<circle cx="376.7" cy="1851.4" r="9.0" fill="url(#gb)"/>
<circle cx="387.1" cy="1859.9" r="9.0" fill="url(#gb)"/>
<circle cx="397.6" cy="1867.5" r="9.0" fill="url(#gb)"/>
<circle cx="408.0" cy="1878.3" r="9.0" fill="url(#gb)"/>
<circle cx="418.5" cy="1884.7" r="9.0" fill="url(#gb)"/>
<circle cx="428.9" cy="1896.0" r="9.0" fill="url(#gb)"/>
<circle cx="439.4" cy="1878.3" r="9.0" fill="url(#gb)"/>
<circle cx="449.9" cy="1890.0" r="9.0" fill="url(#gb)"/>
<circle cx="460.3" cy="1886.6" r="9.0" fill="url(#gb)"/>
<circle cx="470.8" cy="1930.6" r="9.0" fill="url(#gb)"/>
<circle cx="481.2" cy="1871.6" r="9.0" fill="url(#gb)"/>
<circle cx="491.7" cy="1907.6" r="9.0" fill="url(#gb)"/>
<circle cx="502.1" cy="1873.0" r="9.0" fill="url(#gb)"/>
<circle cx="512.6" cy="1885.0" r="9.0" fill="url(#gb)"/>
<circle cx="523.1" cy="1885.0" r="9.0" fill="url(#gb)"/>
<circle cx="533.5" cy="1885.0" r="9.0" fill="url(#gb)"/>
<circle cx="544.0" cy="1882.0" r="9.0" fill="url(#gb)"/>
<circle cx="554.4" cy="1896.6" r="9.0" fill="url(#gb)"/>
<circle cx="564.9" cy="1875.0" r="9.0" fill="url(#gb)"/>
<circle cx="575.3" cy="1872.3" r="9.0" fill="url(#gb)"/>
<circle cx="585.8" cy="1873.3" r="9.0" fill="url(#gb)"/>
<circle cx="596.3" cy="1873.3" r="9.0" fill="url(#gb)"/>
<circle cx="606.7" cy="1870.6" r="9.0" fill="url(#gb)"/>
<circle cx="617.2" cy="1867.3" r="9.0" fill="url(#gb)"/>
<circle cx="627.6" cy="1868.3" r="9.0" fill="url(#gb)"/>
<circle cx="638.1" cy="1869.3" r="9.0" fill="url(#gb)"/>
<circle cx="648.5" cy="1870.6" r="9.0" fill="url(#gb)"/>
<circle cx="659.0" cy="1785.8" r="9.0" fill="url(#gb)"/>
<circle cx="669.5" cy="1746.1" r="9.0" fill="url(#gb)"/>
<circle cx="679.9" cy="1717.3" r="9.0" fill="url(#gb)"/>
<circle cx="690.4" cy="1692.0" r="9.0" fill="url(#gb)"/>
<circle cx="700.8" cy="1670.0" r="9.0" fill="url(#gb)"/>
<circle cx="711.3" cy="1651.1" r="9.0" fill="url(#gb)"/>
<circle cx="721.7" cy="1634.4" r="9.0" fill="url(#gb)"/>
<circle cx="732.2" cy="1620.8" r="9.0" fill="url(#gb)"/>
<circle cx="742.7" cy="1609.4" r="9.0" fill="url(#gb)"/>
<circle cx="753.1" cy="1599.2" r="9.0" fill="url(#gb)"/>
<circle cx="763.6" cy="1589.8" r="9.0" fill="url(#gb)"/>
<circle cx="774.0" cy="1581.4" r="9.0" fill="url(#gb)"/>
<circle cx="784.5" cy="1574.6" r="9.0" fill="url(#gb)"/>
<circle cx="794.9" cy="1568.2" r="9.0" fill="url(#gb)"/>
<circle cx="805.4" cy="1563.3" r="9.0" fill="url(#gb)"/>
<circle cx="815.8" cy="1558.7" r="9.0" fill="url(#gb)"/>
<circle cx="826.3" cy="1554.9" r="9.0" fill="url(#gb)"/>
<circle cx="836.8" cy="1551.5" r="9.0" fill="url(#gb)"/>
<circle cx="847.2" cy="1548.1" r="9.0" fill="url(#gb)"/>
<polyline points="219.8,1761.9 230.3,1764.0 240.7,1767.2 251.2,1770.9 261.6,1774.4 272.1,1778.6 282.5,1783.0 293.0,1787.2 303.5,1793.5 313.9,1799.0 324.4,1805.1 334.8,1812.2 345.3,1819.1 355.7,1827.6 366.2,1835.5 376.7,1846.4 387.1,1854.9 397.6,1864.0 408.0,1875.3 418.5,1881.7 428.9,1886.0 439.4,1880.6 449.9,1880.6 460.3,1912.6 470.8,1875.0 481.2,1885.0 491.7,1870.0 502.1,1871.0 512.6,1881.6 523.1,1875.6 533.5,1876.6 544.0,1878.3 554.4,1889.3 564.9,1878.3 575.3,1875.6 585.8,1872.6 596.3,1811.0 606.7,1757.4 617.2,1724.1 627.6,1696.9 638.1,1673.0 648.5,1651.5 659.0,1632.5 669.5,1616.3 679.9,1601.9 690.4,1589.8 700.8,1579.2 711.3,1570.0 721.7,1562.1 732.2,1555.3 742.7,1549.3 753.1,1544.3 763.6,1539.8 774.0,1536.0 784.5,1532.6 794.9,1529.2 805.4,1526.6 815.8,1523.9 826.3,1521.6 836.8,1519.7 847.2,1518.7" fill="none" stroke="#ff00ff" stroke-width="2.5" stroke-linejoin="round" />
<circle cx="219.8" cy="1761.9" r="9.0" fill="url(#gm)"/>
<circle cx="230.3" cy="1764.0" r="9.0" fill="url(#gm)"/>
<circle cx="240.7" cy="1767.2" r="9.0" fill="url(#gm)"/>
<circle cx="251.2" cy="1770.9" r="9.0" fill="url(#gm)"/>
<circle cx="261.6" cy="1774.4" r="9.0" fill="url(#gm)"/>
<circle cx="272.1" cy="1778.6" r="9.0" fill="url(#gm)"/>
<circle cx="282.5" cy="1783.0" r="9.0" fill="url(#gm)"/>
<circle cx="293.0" cy="1787.2" r="9.0" fill="url(#gm)"/>
<circle cx="303.5" cy="1793.5" r="9.0" fill="url(#gm)"/>
<circle cx="313.9" cy="1799.0" r="9.0" fill="url(#gm)"/>
<circle cx="324.4" cy="1805.1" r="9.0" fill="url(#gm)"/>
<circle cx="334.8" cy="1812.2" r="9.0" fill="url(#gm)"/>
<circle cx="345.3" cy="1819.1" r="9.0" fill="url(#gm)"/>
<circle cx="355.7" cy="1827.6" r="9.0" fill="url(#gm)"/>
<circle cx="366.2" cy="1835.5" r="9.0" fill="url(#gm)"/>
<circle cx="376.7" cy="1846.4" r="9.0" fill="url(#gm)"/>
<circle cx="387.1" cy="1854.9" r="9.0" fill="url(#gm)"/>
<circle cx="397.6" cy="1864.0" r="9.0" fill="url(#gm)"/>
<circle cx="408.0" cy="1875.3" r="9.0" fill="url(#gm)"/>
<circle cx="418.5" cy="1881.7" r="9.0" fill="url(#gm)"/>
<circle cx="428.9" cy="1886.0" r="9.0" fill="url(#gm)"/>
<circle cx="439.4" cy="1880.6" r="9.0" fill="url(#gm)"/>
<circle cx="449.9" cy="1880.6" r="9.0" fill="url(#gm)"/>
<circle cx="460.3" cy="1912.6" r="9.0" fill="url(#gm)"/>
<circle cx="470.8" cy="1875.0" r="9.0" fill="url(#gm)"/>
<circle cx="481.2" cy="1885.0" r="9.0" fill="url(#gm)"/>
<circle cx="491.7" cy="1870.0" r="9.0" fill="url(#gm)"/>
<circle cx="502.1" cy="1871.0" r="9.0" fill="url(#gm)"/>
<circle cx="512.6" cy="1881.6" r="9.0" fill="url(#gm)"/>
<circle cx="523.1" cy="1875.6" r="9.0" fill="url(#gm)"/>
<circle cx="533.5" cy="1876.6" r="9.0" fill="url(#gm)"/>
<circle cx="544.0" cy="1878.3" r="9.0" fill="url(#gm)"/>
<circle cx="554.4" cy="1889.3" r="9.0" fill="url(#gm)"/>
<circle cx="564.9" cy="1878.3" r="9.0" fill="url(#gm)"/>
<circle cx="575.3" cy="1875.6" r="9.0" fill="url(#gm)"/>
<circle cx="585.8" cy="1872.6" r="9.0" fill="url(#gm)"/>
<circle cx="596.3" cy="1811.0" r="9.0" fill="url(#gm)"/>
<circle cx="606.7" cy="1757.4" r="9.0" fill="url(#gm)"/>
<circle cx="617.2" cy="1724.1" r="9.0" fill="url(#gm)"/>
<circle cx="627.6" cy="1696.9" r="9.0" fill="url(#gm)"/>
<circle cx="638.1" cy="1673.0" r="9.0" fill="url(#gm)"/>
<circle cx="648.5" cy="1651.5" r="9.0" fill="url(#gm)"/>
<circle cx="659.0" cy="1632.5" r="9.0" fill="url(#gm)"/>
<circle cx="669.5" cy="1616.3" r="9.0" fill="url(#gm)"/>
<circle cx="679.9" cy="1601.9" r="9.0" fill="url(#gm)"/>
<circle cx="690.4" cy="1589.8" r="9.0" fill="url(#gm)"/>
<circle cx="700.8" cy="1579.2" r="9.0" fill="url(#gm)"/>
<circle cx="711.3" cy="1570.0" r="9.0" fill="url(#gm)"/>
<circle cx="721.7" cy="1562.1" r="9.0" fill="url(#gm)"/>
<circle cx="732.2" cy="1555.3" r="9.0" fill="url(#gm)"/>
<circle cx="742.7" cy="1549.3" r="9.0" fill="url(#gm)"/>
<circle cx="753.1" cy="1544.3" r="9.0" fill="url(#gm)"/>
<circle cx="763.6" cy="1539.8" r="9.0" fill="url(#gm)"/>
<circle cx="774.0" cy="1536.0" r="9.0" fill="url(#gm)"/>
<circle cx="784.5" cy="1532.6" r="9.0" fill="url(#gm)"/>
<circle cx="794.9" cy="1529.2" r="9.0" fill="url(#gm)"/>
<circle cx="805.4" cy="1526.6" r="9.0" fill="url(#gm)"/>
<circle cx="815.8" cy="1523.9" r="9.0" fill="url(#gm)"/>
<circle cx="826.3" cy="1521.6" r="9.0" fill="url(#gm)"/>
<circle cx="836.8" cy="1519.7" r="9.0" fill="url(#gm)"/>
<circle cx="847.2" cy="1518.7" r="9.0" fill="url(#gm)"/>
<line x1="209" y1="1499.5" x2="252.3" y2="1499.5" stroke="#0000ff" stroke-width="4.3" />
<circle cx="229.4" cy="1499.5" r="8" fill="url(#gb)"/>
<text x="255.6" y="1511.3" font-size="37.5" fill="#0000ff" text-anchor="start" >Device C</text>
<line x1="209" y1="1541.2" x2="252.3" y2="1541.2" stroke="#ff00ff" stroke-width="4.3" />
<circle cx="229.4" cy="1541.2" r="8" fill="url(#gm)"/>
<text x="255.6" y="1556.4" font-size="37.5" fill="#ff00ff" text-anchor="start" >Device D</text>
<text x="208.2" y="1615.2" font-size="39.8" xml:space="preserve">V<tspan font-size="25.6" dy="10">D</tspan><tspan dy="-10">=  1.0 V</tspan></text>
<text x="254" y="1671.3" font-size="42" fill="#0000ff">I<tspan font-size="28.4" dy="10.5">on</tspan><tspan dy="-10.5">/I</tspan><tspan font-size="28.4" dy="10.5">off</tspan><tspan dy="-10.5"> = 8.3 × 10</tspan><tspan font-size="28.4" dy="-15.5">11</tspan></text>
<text x="254" y="1726.2" font-size="42" fill="#ff00ff">I<tspan font-size="28.4" dy="10.5">on</tspan><tspan dy="-10.5">/I</tspan><tspan font-size="28.4" dy="10.5">off</tspan><tspan dy="-10.5"> = 5.5 × 10</tspan><tspan font-size="28.4" dy="-15.5">12</tspan></text>
<text x="587.4" y="1506.6" font-size="41.5" fill="#ff00ff" text-anchor="start" >3.2</text>
<text x="658.9" y="1506.6" font-size="41.5" fill="#ff00ff" text-anchor="start" >×</text>
<text x="694.3" y="1506.6" font-size="41.5" fill="#ff00ff" text-anchor="start" >10</text>
<text x="742.0" y="1493.3" font-size="28" fill="#ff00ff" text-anchor="start" >-5</text>
<text x="777.3" y="1506.6" font-size="43" fill="#ff00ff" text-anchor="start" >A</text>
<text x="628.4" y="1955.9" font-size="41.5" fill="#0000ff" text-anchor="start" >3.2</text>
<text x="699.9" y="1955.9" font-size="41.5" fill="#0000ff" text-anchor="start" >×</text>
<text x="735.3" y="1955.9" font-size="41.5" fill="#0000ff" text-anchor="start" >10</text>
<text x="783.0" y="1942.6000000000001" font-size="28" fill="#0000ff" text-anchor="start" >-6</text>
<text x="818.3" y="1955.9" font-size="43" fill="#0000ff" text-anchor="start" >A</text>
<polygon points="872.1,1506.8 883.1,1528.7 877.8,1528.7 877.8,1557.8 867,1557.8 867,1528.7 861.5,1528.7" fill="#000"/>
</svg>
</body></html>
